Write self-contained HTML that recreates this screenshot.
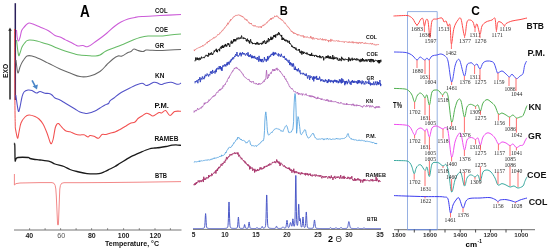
<!DOCTYPE html><html><head><meta charset="utf-8"><style>html,body{margin:0;padding:0;background:#fff;}svg{display:block;}</style></head><body>
<svg width="550" height="249" viewBox="0 0 550 249">
<rect width="550" height="249" fill="#fff"/>
<line x1="14" y1="230" x2="181.5" y2="230" stroke="#777" stroke-width="1"/>
<line x1="29.6" y1="228.2" x2="29.6" y2="230" stroke="#666" stroke-width="0.8"/>
<line x1="45.1" y1="228.2" x2="45.1" y2="230" stroke="#666" stroke-width="0.8"/>
<line x1="60.6" y1="228.2" x2="60.6" y2="230" stroke="#666" stroke-width="0.8"/>
<line x1="76.1" y1="228.2" x2="76.1" y2="230" stroke="#666" stroke-width="0.8"/>
<line x1="91.6" y1="228.2" x2="91.6" y2="230" stroke="#666" stroke-width="0.8"/>
<line x1="107.6" y1="228.2" x2="107.6" y2="230" stroke="#666" stroke-width="0.8"/>
<line x1="123.6" y1="228.2" x2="123.6" y2="230" stroke="#666" stroke-width="0.8"/>
<line x1="139.3" y1="228.2" x2="139.3" y2="230" stroke="#666" stroke-width="0.8"/>
<line x1="155" y1="228.2" x2="155" y2="230" stroke="#666" stroke-width="0.8"/>
<line x1="170.4" y1="228.2" x2="170.4" y2="230" stroke="#666" stroke-width="0.8"/>
<text x="29.3" y="238.2" font-size="7" font-weight="bold" font-family='"Liberation Sans", sans-serif' fill="#222" text-anchor="middle" >40</text>
<text x="91.8" y="238.2" font-size="7" font-weight="bold" font-family='"Liberation Sans", sans-serif' fill="#222" text-anchor="middle" >80</text>
<text x="123.6" y="238.2" font-size="7" font-weight="bold" font-family='"Liberation Sans", sans-serif' fill="#222" text-anchor="middle" >100</text>
<text x="155.4" y="238.2" font-size="7" font-weight="bold" font-family='"Liberation Sans", sans-serif' fill="#222" text-anchor="middle" >120</text>
<text x="61.2" y="238.2" font-size="7.2" font-weight="normal" font-family='"Liberation Sans", sans-serif' fill="#555" text-anchor="middle" >60</text>
<text x="105" y="246.2" font-size="7" font-weight="bold" font-family='"Liberation Sans", sans-serif' fill="#111" text-anchor="start" textLength="54" lengthAdjust="spacingAndGlyphs" >Temperature, °C</text>
<text x="80" y="16.9" font-size="15.6" font-weight="bold" font-family='"Liberation Sans", sans-serif' fill="#000" text-anchor="start" textLength="9.8" lengthAdjust="spacingAndGlyphs" >A</text>
<text transform="translate(7.8,77.9) rotate(-90)" font-size="7.6" font-weight="bold" font-family="Liberation Sans, sans-serif" fill="#111" textLength="14" lengthAdjust="spacingAndGlyphs">EXO</text>
<line x1="10" y1="30" x2="10" y2="99.5" stroke="#333" stroke-width="1.6"/>
<path d="M10 27.4 L8.2 30.8 L11.8 30.8 Z" fill="#222"/>
<text x="155" y="13" font-size="7" font-weight="bold" font-family='"Liberation Sans", sans-serif' fill="#111" text-anchor="start" textLength="12.6" lengthAdjust="spacingAndGlyphs" >COL</text>
<text x="155" y="32" font-size="7" font-weight="bold" font-family='"Liberation Sans", sans-serif' fill="#111" text-anchor="start" textLength="13" lengthAdjust="spacingAndGlyphs" >COE</text>
<text x="155" y="48" font-size="7" font-weight="bold" font-family='"Liberation Sans", sans-serif' fill="#111" text-anchor="start" textLength="9" lengthAdjust="spacingAndGlyphs" >GR</text>
<text x="155" y="78" font-size="7" font-weight="bold" font-family='"Liberation Sans", sans-serif' fill="#111" text-anchor="start" textLength="9.4" lengthAdjust="spacingAndGlyphs" >KN</text>
<text x="154.4" y="107.6" font-size="7" font-weight="bold" font-family='"Liberation Sans", sans-serif' fill="#111" text-anchor="start" textLength="14.6" lengthAdjust="spacingAndGlyphs" >P.M.</text>
<text x="154.4" y="140.6" font-size="7" font-weight="bold" font-family='"Liberation Sans", sans-serif' fill="#111" text-anchor="start" textLength="24" lengthAdjust="spacingAndGlyphs" >RAMEB</text>
<text x="155" y="177.6" font-size="7" font-weight="bold" font-family='"Liberation Sans", sans-serif' fill="#111" text-anchor="start" textLength="12" lengthAdjust="spacingAndGlyphs" >BTB</text>
<path d="M15.3 3.2 L15.3 100" fill="none" stroke="#2a1f5a" stroke-width="1.5" stroke-linejoin="round" />
<path d="M14.6 29 C14.65 40.83 14.78 83.5 14.9 100 C15.02 116.5 15.23 123.33 15.3 128" fill="none" stroke="#f05050" stroke-width="1.0" stroke-linejoin="round" />
<path d="M16.5 30 C16.63 31.33 16.97 36.17 17.3 38 C17.63 39.83 18.05 41.08 18.5 41 C18.95 40.92 19.5 39.17 20 37.5 C20.5 35.83 21 32.5 21.5 31 C22 29.5 22.25 29.5 23 28.5 C23.75 27.5 25 25.92 26 25 C27 24.08 27.83 23.17 29 23 C30.17 22.83 31.17 23.33 33 24 C34.83 24.67 37.5 25.92 40 27 C42.5 28.08 45.5 29.08 48 30.5 C50.5 31.92 53 34.42 55 35.5 C57 36.58 58.33 36.32 60 37 C61.67 37.68 63.33 38.77 65 39.6 C66.67 40.43 68.33 41.17 70 42 C71.67 42.83 73.67 43.93 75 44.6 C76.33 45.27 76.67 45.83 78 46 C79.33 46.17 81.33 45.5 83 45.6 C84.67 45.7 86 47.2 88 46.6 C90 46 92.67 43.6 95 42 C97.33 40.4 100 38.5 102 37 C104 35.5 104.83 34.83 107 33 C109.17 31.17 112.67 27.83 115 26 C117.33 24.17 118.83 23.17 121 22 C123.17 20.83 125.67 19.77 128 19 C130.33 18.23 132.67 17.8 135 17.4 C137.33 17 137.83 16.9 142 16.6 C146.17 16.3 153.5 15.97 160 15.6 C166.5 15.23 177.5 14.6 181 14.4" fill="none" stroke="#cc5cd8" stroke-width="1.05" stroke-linejoin="round" />
<path d="M16.5 40 C16.83 42.48 17.92 52.73 18.5 54.9 C19.08 57.07 19.42 54.32 20 53 C20.58 51.68 21.17 48.73 22 47 C22.83 45.27 24.17 43.67 25 42.6 C25.83 41.53 26.17 41.03 27 40.6 C27.83 40.17 28.33 39.93 30 40 C31.67 40.07 34.5 40.42 37 41 C39.5 41.58 42.83 42.83 45 43.5 C47.17 44.17 48 44.25 50 45 C52 45.75 54.5 47 57 48 C59.5 49 62 50 65 51 C68 52 72.5 53.33 75 54 C77.5 54.67 77.5 54.7 80 55 C82.5 55.3 87.5 55.63 90 55.8 C92.5 55.97 93.33 56.13 95 56 C96.67 55.87 98.17 55.83 100 55 C101.83 54.17 103.5 52.25 106 51 C108.5 49.75 111.83 48.75 115 47.5 C118.17 46.25 122 44.75 125 43.5 C128 42.25 130.5 41 133 40 C135.5 39 137.5 38.17 140 37.5 C142.5 36.83 144.67 36.25 148 36 C151.33 35.75 156.33 36.17 160 36 C163.67 35.83 166.5 35.33 170 35 C173.5 34.67 179.17 34.17 181 34" fill="none" stroke="#66bb66" stroke-width="1.05" stroke-linejoin="round" />
<path d="M16 60 C16.3 62.13 17.13 71.63 17.8 72.8 C18.47 73.97 19.3 68.7 20 67 C20.7 65.3 21.33 63.85 22 62.6 C22.67 61.35 23.17 60.6 24 59.5 C24.83 58.4 25.67 56.58 27 56 C28.33 55.42 29.83 55.5 32 56 C34.17 56.5 37.5 57.9 40 59 C42.5 60.1 45.33 61.77 47 62.6 C48.67 63.43 47.83 62.93 50 64 C52.17 65.07 56.67 67.5 60 69 C63.33 70.5 66.67 71.73 70 73 C73.33 74.27 76.67 76.1 80 76.6 C83.33 77.1 86.67 76.85 90 76 C93.33 75.15 97.17 73.42 100 71.5 C102.83 69.58 104.83 66.58 107 64.5 C109.17 62.42 111.17 60.42 113 59 C114.83 57.58 116.5 56.5 118 56 C119.5 55.5 120.33 56.58 122 56 C123.67 55.42 126.5 53.25 128 52.5 C129.5 51.75 130 52.08 131 51.5 C132 50.92 132.83 49.17 134 49 C135.17 48.83 136.5 50.08 138 50.5 C139.5 50.92 141.67 51.58 143 51.5 C144.33 51.42 144.83 50.22 146 50 C147.17 49.78 147.67 50.12 150 50.2 C152.33 50.28 156.67 50.53 160 50.5 C163.33 50.47 166.5 50.15 170 50 C173.5 49.85 179.17 49.67 181 49.6" fill="none" stroke="#686868" stroke-width="1.05" stroke-linejoin="round" />
<path d="M15.8 95 C16.22 97.67 17.6 109 18.3 111 C19 113 19.38 109.33 20 107 C20.62 104.67 21.33 99.5 22 97 C22.67 94.5 23 93.17 24 92 C25 90.83 26.67 90.25 28 90 C29.33 89.75 30.57 90 32 90.5 C33.43 91 35.27 92.83 36.6 93 C37.93 93.17 38.6 91.47 40 91.5 C41.4 91.53 43.5 92.87 45 93.2 C46.5 93.53 47.83 93.2 49 93.5 C50.17 93.8 51 94.25 52 95 C53 95.75 53.67 97.17 55 98 C56.33 98.83 58.33 99.17 60 100 C61.67 100.83 63.33 102 65 103 C66.67 104 68.33 105 70 106 C71.67 107 73.33 108 75 109 C76.67 110 78.5 111.33 80 112 C81.5 112.67 82.67 112.78 84 113 C85.33 113.22 86.17 113.63 88 113.3 C89.83 112.97 93 111.88 95 111 C97 110.12 98.33 109 100 108 C101.67 107 103.58 105.75 105 105 C106.42 104.25 107.67 104.2 108.5 103.5 C109.33 102.8 109.08 101.72 110 100.8 C110.92 99.88 112.5 99.13 114 98 C115.5 96.87 117.17 95.25 119 94 C120.83 92.75 123.17 91.5 125 90.5 C126.83 89.5 128.33 88.83 130 88 C131.67 87.17 133 86.3 135 85.5 C137 84.7 140.17 83.2 142 83.2 C143.83 83.2 144.67 85.33 146 85.5 C147.33 85.67 148.67 84.75 150 84.2 C151.33 83.65 152.83 82.43 154 82.2 C155.17 81.97 155.83 82.42 157 82.8 C158.17 83.18 159.67 84.43 161 84.5 C162.33 84.57 163.33 83.57 165 83.2 C166.67 82.83 168.83 82.12 171 82.3 C173.17 82.48 176.33 84.18 178 84.3 C179.67 84.42 180.5 83.22 181 83" fill="none" stroke="#5252c8" stroke-width="1.05" stroke-linejoin="round" />
<path d="M15.3 128 C15.67 129.7 16.88 137.53 17.5 138.2 C18.12 138.87 18.42 134.53 19 132 C19.58 129.47 20 125.5 21 123 C22 120.5 23.67 118.33 25 117 C26.33 115.67 27.33 115.08 29 115 C30.67 114.92 33.33 115.83 35 116.5 C36.67 117.17 37.67 117.75 39 119 C40.33 120.25 41.67 121.67 43 124 C44.33 126.33 45.83 130 47 133 C48.17 136 49.25 140.23 50 142 C50.75 143.77 50.97 144.1 51.5 143.6 C52.03 143.1 52.58 141.6 53.2 139 C53.82 136.4 54.57 130.5 55.2 128 C55.83 125.5 56.45 124.75 57 124 C57.55 123.25 58 123.33 58.5 123.5 C59 123.67 59.25 124.17 60 125 C60.75 125.83 62 127.5 63 128.5 C64 129.5 64.83 130.45 66 131 C67.17 131.55 68.5 131.3 70 131.8 C71.5 132.3 73.33 133.47 75 134 C76.67 134.53 78.5 134.87 80 135 C81.5 135.13 82.67 134.47 84 134.8 C85.33 135.13 87 136.88 88 137 C89 137.12 89 135.62 90 135.5 C91 135.38 92.57 135.83 94 136.3 C95.43 136.77 97.27 138.6 98.6 138.3 C99.93 138 100.77 135.13 102 134.5 C103.23 133.87 104.67 134.72 106 134.5 C107.33 134.28 108.5 133.62 110 133.2 C111.5 132.78 113.33 132.62 115 132 C116.67 131.38 118.33 130.42 120 129.5 C121.67 128.58 123.33 127.5 125 126.5 C126.67 125.5 128.33 124.25 130 123.5 C131.67 122.75 133.67 122.83 135 122 C136.33 121.17 136.83 119.5 138 118.5 C139.17 117.5 140.58 116.88 142 116 C143.42 115.12 145.17 113.45 146.5 113.2 C147.83 112.95 148.92 114.03 150 114.5 C151.08 114.97 151.5 116.33 153 116 C154.5 115.67 157.57 113 159 112.5 C160.43 112 160.5 113.33 161.6 113 C162.7 112.67 164.2 110.08 165.6 110.5 C167 110.92 168.5 115.33 170 115.5 C171.5 115.67 172.77 112.22 174.6 111.5 C176.43 110.78 179.93 111.25 181 111.2" fill="none" stroke="#f25050" stroke-width="1.05" stroke-linejoin="round" />
<path d="M14 143.6 C14.13 143.83 14.62 142.22 14.8 145 C14.98 147.78 14.9 157.97 15.1 160.3 C15.3 162.63 15.52 159.47 16 159 C16.48 158.53 16 157.75 18 157.5 C20 157.25 26 157.33 28 157.5 C30 157.67 28.83 158.17 30 158.5 C31.17 158.83 33.33 159.25 35 159.5 C36.67 159.75 37.5 159.65 40 160 C42.5 160.35 47.5 160.93 50 161.6 C52.5 162.27 52.67 163.18 55 164 C57.33 164.82 61.5 165.58 64 166.5 C66.5 167.42 67.83 168.67 70 169.5 C72.17 170.33 74.17 170.82 77 171.5 C79.83 172.18 83.33 173.25 87 173.6 C90.67 173.95 96 173.95 99 173.6 C102 173.25 103.17 172.27 105 171.5 C106.83 170.73 108.33 169.83 110 169 C111.67 168.17 113.33 167.45 115 166.5 C116.67 165.55 118.17 164.45 120 163.3 C121.83 162.15 124.17 160.72 126 159.6 C127.83 158.48 128.67 157.77 131 156.6 C133.33 155.43 137 153.87 140 152.6 C143 151.33 146.5 149.77 149 149 C151.5 148.23 153.17 148.25 155 148 C156.83 147.75 158.17 147.75 160 147.5 C161.83 147.25 164 146.88 166 146.5 C168 146.12 170.33 145.48 172 145.2 C173.67 144.92 174.5 144.77 176 144.8 C177.5 144.83 180.17 145.3 181 145.4" fill="none" stroke="#1a1a1a" stroke-width="1.3" stroke-linejoin="round" />
<path d="M14.4 174 L14.4 185 L16 183.6 L20 183 L40 182.6 L52 182.6 L54 183.3 L55.2 185.5 L55.8 189 L56.3 196 L57.6 224.8 L58.4 224.8 L59.5 196 L59.8 189 L60.4 185.5 L61.6 183.3 L64 182.7 L80 182.7 L110 182.5 L140 182.2 L181 181.6" fill="none" stroke="#f07a7a" stroke-width="0.9" stroke-linejoin="round" />
<line x1="32.1" y1="80.4" x2="35" y2="85.8" stroke="#4a86c8" stroke-width="1.6"/>
<path d="M32.5 86.3 L37.9 84.6 L37 89.4 Z" fill="#4a86c8"/>
<line x1="193" y1="229.4" x2="381" y2="229.4" stroke="#777" stroke-width="1"/>
<text x="193.6" y="237.4" font-size="6.6" font-weight="bold" font-family='"Liberation Sans", sans-serif' fill="#222" text-anchor="middle" >5</text>
<text x="225" y="237.4" font-size="6.6" font-weight="bold" font-family='"Liberation Sans", sans-serif' fill="#222" text-anchor="middle" >10</text>
<text x="256" y="237.4" font-size="6.6" font-weight="bold" font-family='"Liberation Sans", sans-serif' fill="#222" text-anchor="middle" >15</text>
<text x="287" y="237.4" font-size="6.6" font-weight="bold" font-family='"Liberation Sans", sans-serif' fill="#222" text-anchor="middle" >20</text>
<text x="318" y="237.4" font-size="6.6" font-weight="bold" font-family='"Liberation Sans", sans-serif' fill="#222" text-anchor="middle" >25</text>
<text x="349" y="237.4" font-size="6.6" font-weight="bold" font-family='"Liberation Sans", sans-serif' fill="#222" text-anchor="middle" >30</text>
<text x="380" y="237.4" font-size="6.6" font-weight="bold" font-family='"Liberation Sans", sans-serif' fill="#222" text-anchor="middle" >35</text>
<text x="327.9" y="241.8" font-size="9" font-weight="bold" font-family='"Liberation Sans", sans-serif' fill="#000" text-anchor="start" >2</text>
<text x="335.4" y="241.9" font-size="8.2" font-weight="normal" font-family='"Liberation Sans", sans-serif' fill="#222" text-anchor="start" >Θ</text>
<text x="279.8" y="14.8" font-size="13.6" font-weight="bold" font-family='"Liberation Sans", sans-serif' fill="#000" text-anchor="start" textLength="8.1" lengthAdjust="spacingAndGlyphs" >B</text>
<text x="366" y="39.4" font-size="5.7" font-weight="bold" font-family='"Liberation Sans", sans-serif' fill="#111" text-anchor="start" textLength="11" lengthAdjust="spacingAndGlyphs" >COL</text>
<text x="366.6" y="55.8" font-size="5.7" font-weight="bold" font-family='"Liberation Sans", sans-serif' fill="#111" text-anchor="start" textLength="11.4" lengthAdjust="spacingAndGlyphs" >COE</text>
<text x="366.6" y="79.8" font-size="5.7" font-weight="bold" font-family='"Liberation Sans", sans-serif' fill="#111" text-anchor="start" textLength="7.4" lengthAdjust="spacingAndGlyphs" >GR</text>
<text x="366" y="102.8" font-size="5.7" font-weight="bold" font-family='"Liberation Sans", sans-serif' fill="#111" text-anchor="start" textLength="7" lengthAdjust="spacingAndGlyphs" >KN</text>
<text x="366" y="137.8" font-size="5.7" font-weight="bold" font-family='"Liberation Sans", sans-serif' fill="#111" text-anchor="start" textLength="10" lengthAdjust="spacingAndGlyphs" >P.M.</text>
<text x="365.5" y="177.1" font-size="5.7" font-weight="bold" font-family='"Liberation Sans", sans-serif' fill="#111" text-anchor="start" textLength="20.5" lengthAdjust="spacingAndGlyphs" >RAMEB</text>
<text x="367" y="221.4" font-size="5.7" font-weight="bold" font-family='"Liberation Sans", sans-serif' fill="#111" text-anchor="start" textLength="10.4" lengthAdjust="spacingAndGlyphs" >BTB</text>
<path d="M194 50.1 L194.21 49.69 L194.46 51.06 L194.76 50.01 L195.09 49.55 L195.46 49.47 L195.85 49.44 L196.25 48.75 L196.66 48.74 L197.08 48.67 L197.5 48.08 L197.9 48.12 L198.29 47.92 L198.66 47.86 L199 47.29 L199.4 47.38 L199.77 47.48 L200.14 46.78 L200.49 47.05 L200.83 47.12 L201.17 46.54 L201.51 46.94 L201.86 46.17 L202.23 45.98 L202.6 45.34 L203 46.38 L203.33 45.84 L203.66 45.4 L204.01 44.72 L204.36 44.98 L204.71 44.57 L205.07 44.22 L205.44 44.48 L205.8 43.87 L206.17 43.15 L206.54 42.67 L206.91 42.25 L207.28 43.3 L207.64 41.98 L208 42.01 L208.36 41.03 L208.71 42.03 L209.07 40.98 L209.43 41.18 L209.79 40.15 L210.14 40.3 L210.5 40.03 L210.86 40.19 L211.21 39.71 L211.57 39.44 L211.93 39.2 L212.29 39.22 L212.64 38.66 L213 38.69 L213.36 37.88 L213.71 37.47 L214.07 38.35 L214.43 37.36 L214.79 36.95 L215.14 37.36 L215.5 37.27 L215.86 36.56 L216.21 36.77 L216.57 36.42 L216.93 35.73 L217.29 35.48 L217.64 34.63 L218 34.25 L218.36 35.04 L218.72 34.67 L219.09 33.94 L219.46 33.89 L219.83 32.72 L220.2 33.04 L220.56 32.96 L220.93 32.11 L221.29 31.86 L221.64 31.14 L221.99 31.37 L222.34 30.33 L222.67 30.45 L223 30.49 L223.4 29.01 L223.8 28.62 L224.19 28.64 L224.57 28.54 L224.94 27.02 L225.31 27.23 L225.66 26.49 L226.01 26.34 L226.35 26.08 L226.68 24.82 L227 25.16 L227.42 24.54 L227.82 22.76 L228.2 24.34 L228.56 23.41 L228.92 22.72 L229.27 21.94 L229.63 21.01 L230 20.64 L230.38 21.15 L230.75 19.27 L231.12 20.15 L231.5 19.28 L231.88 18.84 L232.25 18.71 L232.62 18.46 L233 17.2 L233.38 16.89 L233.77 17.25 L234.17 16.4 L234.56 16.39 L234.95 16.37 L235.32 15.59 L235.67 15.51 L236 15.82 L236.46 15.09 L236.87 15.49 L237.25 14.82 L237.62 15.33 L238 14.9 L238.35 15.03 L238.66 14.78 L238.98 15.18 L239.41 15.32 L240 14.81 L240.26 15.14 L240.56 15.85 L240.87 15.48 L241.21 16.5 L241.56 16.1 L241.93 15.92 L242.31 16.7 L242.7 16.03 L243.09 17.35 L243.48 17.75 L243.87 17.6 L244.26 18.09 L244.64 18.05 L245 19.57 L245.35 18.91 L245.71 19.43 L246.05 19.91 L246.4 20.48 L246.74 19.33 L247.09 20.01 L247.44 20.99 L247.79 21.29 L248.14 21.77 L248.5 21.86 L248.86 23.05 L249.23 22.75 L249.61 22.75 L250 24.07 L250.33 23.69 L250.67 23.15 L251.02 23.91 L251.39 23.18 L251.75 24.61 L252.12 24.96 L252.5 25.39 L252.87 25.01 L253.25 25.18 L253.62 26.17 L253.99 25.94 L254.35 25.75 L254.7 26.3 L255.05 25.21 L255.38 25.93 L255.7 26.08 L256 26.45 L256.44 26.93 L256.84 26.9 L257.21 26.97 L257.56 26.72 L257.9 27.08 L258.23 26.56 L258.56 27.21 L258.89 27.63 L259.24 26.88 L259.61 26.68 L260 26.9 L260.33 27.16 L260.66 27.24 L261.01 26.17 L261.36 27.83 L261.71 26.98 L262.07 25.86 L262.44 25.5 L262.8 25.31 L263.17 25.35 L263.54 26.07 L263.91 24.52 L264.28 24.85 L264.64 24.67 L265 23.89 L265.35 24.32 L265.71 24.1 L266.05 23.6 L266.4 22.65 L266.74 22.83 L267.09 23.09 L267.44 21.83 L267.79 21.85 L268.14 20.91 L268.5 20.81 L268.86 20.85 L269.23 20.84 L269.61 19.71 L270 19.86 L270.33 19.32 L270.67 18.38 L271.02 19.86 L271.39 17.98 L271.75 19.07 L272.12 18.47 L272.5 18.25 L272.87 17.5 L273.25 18.31 L273.62 17.8 L273.99 17.45 L274.35 17.04 L274.7 15.85 L275.05 16.18 L275.38 16.74 L275.7 16.46 L276 16.37 L276.44 16.45 L276.84 15.49 L277.21 16.76 L277.56 16.69 L277.9 16.81 L278.23 16.79 L278.56 17.86 L278.89 17.6 L279.24 18.48 L279.61 18.26 L280 18.79 L280.33 18.28 L280.66 19.2 L281.01 19.2 L281.36 20.02 L281.71 19.43 L282.07 20.82 L282.44 20.48 L282.8 20.74 L283.17 20.73 L283.54 21.32 L283.91 22.17 L284.28 23.04 L284.64 23.41 L285 22.68 L285.36 23.21 L285.71 24.02 L286.07 24.36 L286.43 25.06 L286.79 25.16 L287.14 25.92 L287.5 26.64 L287.86 27 L288.21 26.76 L288.57 27.81 L288.93 28.04 L289.29 27.96 L289.64 28.85 L290 29.44 L290.36 30.17 L290.71 29.97 L291.07 30.72 L291.43 32 L291.79 31.59 L292.14 31.16 L292.5 32.37 L292.86 32.07 L293.21 32.57 L293.57 32.08 L293.93 33.98 L294.29 33.05 L294.64 33.01 L295 32.98 L295.36 33.71 L295.71 33.2 L296.07 33.94 L296.43 34.55 L296.79 34.15 L297.14 34.25 L297.5 35.35 L297.86 34.19 L298.21 35.23 L298.57 34.88 L298.93 35.16 L299.29 34.83 L299.64 35.31 L300 35.54 L300.36 35.84 L300.71 36.01 L301.07 35.28 L301.43 35.98 L301.79 36.39 L302.14 35.92 L302.5 35.96 L302.86 35.91 L303.21 35.31 L303.57 37.47 L303.93 37.1 L304.29 36.34 L304.64 37.42 L305 36.71 L305.36 36.84 L305.71 37.19 L306.07 37.09 L306.43 37.32 L306.79 37.26 L307.14 36.56 L307.5 37.26 L307.86 37.25 L308.21 37.36 L308.57 37.81 L308.93 37.63 L309.29 37.64 L309.64 37.96 L310 38.03 L310.36 38.01 L310.71 35.97 L311.07 36.97 L311.43 38.56 L311.79 37.99 L312.14 37.27 L312.5 38.18 L312.86 39.49 L313.21 37.85 L313.57 37.38 L313.93 38.3 L314.29 39.02 L314.64 39.07 L315 38.72 L315.36 38.33 L315.71 38.09 L316.07 38.46 L316.43 38.07 L316.79 38.78 L317.14 38.42 L317.5 39.02 L317.86 39.71 L318.21 39.01 L318.57 39.09 L318.93 38.99 L319.29 39.38 L319.64 38.99 L320 39.03 L320.35 38.35 L320.67 38.64 L320.98 39.52 L321.28 39.51 L321.58 40.11 L321.88 39.62 L322.19 39.05 L322.51 38.57 L322.85 40.24 L323.21 39.28 L323.6 40.14 L324.02 40.1 L324.49 39.75 L325 38.95 L325.27 40.6 L325.56 40.36 L325.86 40.42 L326.17 39.45 L326.48 39.99 L326.81 40.1 L327.15 40.53 L327.49 40.22 L327.84 40.71 L328.2 40.14 L328.57 42.1 L328.94 40.09 L329.31 40.4 L329.69 40.63 L330.07 40.47 L330.45 41.54 L330.84 38.93 L331.22 40.02 L331.61 41.18 L332 40.81 L332.38 39.72 L332.77 40.5 L333.15 40.55 L333.53 40.86 L333.9 41.1 L334.27 40.85 L334.64 40.93 L335 41.04 L335.36 41.25 L335.71 40.83 L336.07 40.95 L336.43 40.49 L336.79 40.89 L337.14 40.96 L337.5 40.74 L337.86 41.49 L338.21 41.1 L338.57 40.54 L338.93 41.66 L339.29 41.51 L339.64 41.3 L340 41.54 L340.36 41.03 L340.71 41.46 L341.07 41.52 L341.43 41.64 L341.79 41.43 L342.14 41.33 L342.5 41.58 L342.86 41.79 L343.21 41.56 L343.57 41.94 L343.93 41.66 L344.29 42.68 L344.64 41.7 L345 41.48 L345.36 41.05 L345.71 41.46 L346.07 41.5 L346.43 41.8 L346.79 41.89 L347.14 41.82 L347.5 42.17 L347.86 42.31 L348.21 42.82 L348.57 41.89 L348.93 41.78 L349.29 42.52 L349.64 41.57 L350 42.16 L350.36 42.58 L350.71 42.23 L351.07 42.26 L351.43 41.73 L351.79 42.46 L352.14 43.1 L352.5 41.95 L352.86 41.42 L353.21 42.55 L353.57 43.23 L353.93 41.95 L354.29 42.6 L354.64 42.5 L355 42.66 L355.36 42.66 L355.72 42.82 L356.09 41.91 L356.45 42.74 L356.83 43.37 L357.2 42.4 L357.57 43.17 L357.94 42.67 L358.32 43.75 L358.69 42.53 L359.07 42.57 L359.44 42.33 L359.82 43.14 L360.19 42.34 L360.56 43.36 L360.92 43.65 L361.29 43.16 L361.65 42.34 L362.01 42.89 L362.36 42.22 L362.71 42.84 L363.06 42.77 L363.4 43.34 L363.73 43.35 L364.06 43.26 L364.38 43.01 L364.69 43.63 L365 43.83 L365.42 42.57 L365.82 43.27 L366.21 43.03 L366.59 43.57 L366.96 43.58 L367.32 43.46 L367.67 43.47 L368.02 43.33 L368.35 43.76 L368.69 43.74 L369.02 44.16 L369.34 43.94 L369.67 43.59 L369.99 43.22 L370.32 43.17 L370.65 43.82 L370.98 43.93 L371.31 43.57 L371.65 44.42 L372 43.97 L372.36 43.11 L372.73 44.11 L373.12 43.77 L373.51 44.37 L373.91 44.78 L374.32 44.41 L374.73 44.15 L375.14 45.23 L375.54 44.74 L375.94 45.32 L376.33 44.64 L376.7 44.64 L377.07 44.28 L377.41 44.78 L377.74 44.93 L378.05 44.6 L378.33 44.17 L378.58 44.54 L378.81 44.83 L379 44.94" fill="none" stroke="#e87474" stroke-width="0.8" stroke-linejoin="round" />
<path d="M195 61.36 L195.16 60.07 L195.34 59.79 L195.54 59.76 L195.76 57.5 L196 60.34 L196.25 59.07 L196.52 58.58 L196.8 58.44 L197.09 57.64 L197.39 59.69 L197.7 57.85 L198.03 59.76 L198.36 58.25 L198.69 58.66 L199.04 60.27 L199.39 59.33 L199.74 57.72 L200.09 58.71 L200.45 59.62 L200.81 58.06 L201.16 58.35 L201.52 56.69 L201.87 58.15 L202.22 58.21 L202.56 57.87 L202.9 57.35 L203.23 57.15 L203.55 57.61 L203.86 57.19 L204.17 58.15 L204.46 57.48 L204.74 56.98 L205 57.16 L205.36 55.57 L205.72 55.29 L206.07 54.85 L206.41 55.71 L206.74 56.03 L207.07 54.97 L207.38 55.31 L207.7 56.49 L208 55.77 L208.31 56.43 L208.6 52.91 L208.9 53.69 L209.19 54.63 L209.47 55.21 L209.76 54.13 L210.04 54.32 L210.32 52.93 L210.6 54.52 L210.88 54.19 L211.16 54.72 L211.44 52.34 L211.72 52.6 L212 53.58 L212.32 54.1 L212.65 55.01 L212.96 53.34 L213.28 53.18 L213.59 53.31 L213.91 52.18 L214.21 50.59 L214.52 51.93 L214.82 51.11 L215.12 50.53 L215.42 50.13 L215.72 49.73 L216.01 50.76 L216.31 48.76 L216.59 51.88 L216.88 49.98 L217.16 50.27 L217.44 52.27 L217.72 50.32 L218 49.58 L218.34 49.73 L218.67 49.67 L219 48.99 L219.32 49.34 L219.64 51.21 L219.95 47.86 L220.26 47.68 L220.56 47.45 L220.87 46.79 L221.17 48.81 L221.47 46.36 L221.77 46.91 L222.08 47.12 L222.38 45.38 L222.69 48.02 L223 45.85 L223.31 46.33 L223.61 47.94 L223.91 46.87 L224.2 44.96 L224.5 45.37 L224.79 46.65 L225.08 45.05 L225.38 43.95 L225.67 45.94 L225.98 44.7 L226.29 46.64 L226.61 45.61 L226.94 46.24 L227.28 44.57 L227.63 43.34 L228 44.21 L228.27 45 L228.54 43.27 L228.83 44.48 L229.12 45.34 L229.43 45.72 L229.73 46.85 L230.05 43.71 L230.37 43.31 L230.69 42.39 L231.01 41.64 L231.34 40.64 L231.66 43.72 L231.99 43.16 L232.31 41.67 L232.63 43.27 L232.95 42.24 L233.27 41.01 L233.57 39.42 L233.88 41.77 L234.17 39.3 L234.46 40.69 L234.73 39.08 L235 40.44 L235.37 39.42 L235.72 41.32 L236.06 39.54 L236.39 39.78 L236.71 38.47 L237.02 37.82 L237.33 39.1 L237.62 39.28 L237.92 39.33 L238.21 37.76 L238.5 38.08 L238.8 37.59 L239.09 39.24 L239.39 38.83 L239.69 38.4 L240 38.37 L240.31 37.49 L240.62 38.2 L240.94 38.89 L241.25 36.99 L241.56 35.6 L241.88 36.77 L242.19 37.72 L242.5 38.28 L242.81 38.65 L243.12 38.72 L243.44 38.78 L243.75 37.36 L244.06 38.87 L244.38 38.56 L244.69 38.21 L245 38.95 L245.31 38.56 L245.62 38.46 L245.94 39.42 L246.25 40.99 L246.56 39.73 L246.88 41.6 L247.19 39.94 L247.5 38.68 L247.81 40.62 L248.12 40.22 L248.44 41.07 L248.75 40.1 L249.06 42.55 L249.38 41.14 L249.69 43.61 L250 42.05 L250.31 40.87 L250.62 39.26 L250.94 41.84 L251.25 41.65 L251.56 42.88 L251.88 42.69 L252.19 42.2 L252.5 44.12 L252.81 43.01 L253.12 43.63 L253.44 43.08 L253.75 43.59 L254.06 43.94 L254.38 43.11 L254.69 43.07 L255 43.65 L255.31 44.31 L255.62 43.11 L255.94 44.49 L256.25 43.22 L256.56 44.13 L256.88 42.15 L257.19 42.19 L257.5 43.64 L257.81 42.55 L258.12 44.88 L258.44 44.19 L258.75 43.33 L259.06 43.17 L259.38 44.57 L259.69 44.16 L260 43.48 L260.31 43.62 L260.62 43.93 L260.94 42.92 L261.25 43.17 L261.56 44.49 L261.88 43.98 L262.19 42.65 L262.5 43.95 L262.81 44.11 L263.12 41.31 L263.44 42.62 L263.75 41.32 L264.06 42.43 L264.38 40.3 L264.69 40.71 L265 41.06 L265.31 44.01 L265.62 43.02 L265.94 43.81 L266.25 42.44 L266.56 42.92 L266.88 40.62 L267.19 41.45 L267.5 40.87 L267.81 42.3 L268.12 39.33 L268.44 38.02 L268.75 40.25 L269.06 41.41 L269.38 39.81 L269.69 38.98 L270 39.99 L270.31 39.87 L270.63 38.13 L270.95 36.71 L271.27 40.04 L271.6 38.07 L271.92 39.26 L272.24 37.17 L272.56 39.32 L272.88 38.66 L273.2 37.81 L273.51 35.37 L273.82 36.87 L274.12 36.16 L274.42 36.91 L274.71 35.01 L275 37.07 L275.34 34.73 L275.68 37.58 L276.01 34.54 L276.34 34.94 L276.66 34.87 L276.97 34.66 L277.28 33.84 L277.58 35.32 L277.88 34.24 L278.17 33.02 L278.45 32.81 L278.73 32.14 L279 34.95 L279.34 32.96 L279.66 33.83 L279.97 34.58 L280.27 35.46 L280.56 35.08 L280.85 35.6 L281.13 35.74 L281.42 36.77 L281.7 34.96 L282 40.02 L282.29 37.64 L282.57 37.57 L282.84 39.97 L283.1 39.48 L283.38 39.04 L283.66 37.92 L283.95 39.9 L284.27 39.19 L284.62 40.84 L285 39.99 L285.26 40 L285.53 39.83 L285.81 41.37 L286.11 39.7 L286.41 40.45 L286.73 40.19 L287.05 41.62 L287.38 41.83 L287.7 40.37 L288.04 42.63 L288.37 41.94 L288.7 41.65 L289.03 42.22 L289.36 40.83 L289.68 43.91 L290 43.13 L290.31 43.95 L290.62 44.17 L290.94 44.32 L291.25 45.13 L291.56 45.1 L291.88 46.99 L292.19 45.74 L292.5 46.49 L292.81 46.3 L293.12 47.94 L293.44 47.7 L293.75 47.94 L294.06 47.11 L294.38 48.16 L294.69 47.25 L295 48.29 L295.31 49.08 L295.62 49.55 L295.94 47.68 L296.25 48.84 L296.56 50.13 L296.88 50.19 L297.19 49.89 L297.5 50.14 L297.81 49.99 L298.12 50.4 L298.44 49.44 L298.75 50.39 L299.06 50.07 L299.38 49.01 L299.69 52.26 L300 51.62 L300.31 52.78 L300.62 51.89 L300.94 53.31 L301.25 50.75 L301.56 51.73 L301.88 54.64 L302.19 52.53 L302.5 51.4 L302.81 53.02 L303.12 52.72 L303.44 53.85 L303.75 51.7 L304.06 53.3 L304.38 52.31 L304.69 52.69 L305 53.07 L305.31 53.13 L305.62 53.62 L305.94 52.86 L306.25 53.28 L306.56 54.23 L306.88 52.47 L307.19 52.89 L307.5 54.12 L307.81 53.75 L308.12 55.05 L308.44 54.46 L308.75 54.48 L309.06 54.35 L309.38 55.01 L309.69 54.27 L310 55.9 L310.3 54.37 L310.59 55.83 L310.87 54.76 L311.13 55.62 L311.39 55.52 L311.66 52.89 L311.92 56 L312.19 55.35 L312.47 55.02 L312.76 56.07 L313.07 54.78 L313.4 55.12 L313.75 55.77 L314.14 55.4 L314.55 56.65 L315 54.98 L315.23 55.73 L315.46 55.43 L315.68 55.32 L315.91 55.02 L316.15 55.23 L316.38 55.31 L316.61 56.61 L316.85 55.69 L317.1 56.91 L317.34 56.92 L317.59 55.99 L317.85 57.23 L318.11 56.6 L318.37 56.66 L318.64 56.2 L318.92 57.12 L319.21 57.2 L319.5 55.47 L319.8 57.09 L320.1 58.13 L320.42 55.96 L320.74 56.14 L321.07 57.1 L321.42 58.08 L321.77 57.91 L322.13 57.16 L322.51 56.12 L322.89 56.83 L323.29 56.81 L323.7 60.34 L324.12 58.26 L324.55 57.8 L325 58.02 L325.23 57.96 L325.46 58.04 L325.7 58.29 L325.94 56.23 L326.19 56.4 L326.44 57.55 L326.7 56.12 L326.96 58.03 L327.22 56.28 L327.48 57.82 L327.75 57.72 L328.03 55.37 L328.3 57.87 L328.58 58.27 L328.87 56 L329.15 56.91 L329.44 58.24 L329.73 57.02 L330.03 58.75 L330.32 58.43 L330.62 56.23 L330.93 58.38 L331.23 58.82 L331.54 57.75 L331.84 57.93 L332.16 59.15 L332.47 56.66 L332.78 55.07 L333.1 59.15 L333.41 57.88 L333.73 59.39 L334.05 56.65 L334.38 59 L334.7 58.07 L335.02 58.42 L335.35 58.74 L335.67 58.43 L336 57.05 L336.32 58.44 L336.65 58.84 L336.98 59.41 L337.31 59.53 L337.63 57.79 L337.96 59.31 L338.29 60.58 L338.62 60.15 L338.95 59.91 L339.27 60.63 L339.6 58.54 L339.93 58.4 L340.25 59.8 L340.58 59.28 L340.9 59.96 L341.23 61.13 L341.55 56.81 L341.87 57.26 L342.19 59.08 L342.51 58.14 L342.83 58.62 L343.14 60.13 L343.46 58.88 L343.77 59.81 L344.08 60.28 L344.39 59.51 L344.7 60 L345 60.26 L345.3 58.7 L345.61 59 L345.91 59.3 L346.22 59.4 L346.53 58.98 L346.83 59.77 L347.14 59.21 L347.45 59.45 L347.76 59.25 L348.07 59.86 L348.38 61.56 L348.69 57.28 L349 57.78 L349.31 59.29 L349.63 60.2 L349.94 58.57 L350.25 61.1 L350.56 59.33 L350.88 59.91 L351.19 60.11 L351.5 59.22 L351.81 58.45 L352.13 57.77 L352.44 60.43 L352.75 58.79 L353.07 58.86 L353.38 59.05 L353.69 59.89 L354 59.93 L354.32 58.49 L354.63 59.14 L354.94 59.07 L355.25 60.02 L355.56 58.85 L355.87 59.17 L356.18 60.47 L356.49 58.48 L356.8 58.76 L357.1 59.04 L357.41 58.69 L357.72 60.29 L358.02 59.48 L358.33 59.3 L358.63 59.71 L358.93 59.47 L359.23 61.2 L359.53 59.87 L359.83 59.81 L360.13 62.17 L360.43 59.8 L360.73 59.16 L361.02 59.38 L361.31 61.51 L361.61 60.42 L361.9 58.96 L362.19 61.31 L362.48 58.18 L362.76 60.33 L363.05 59.76 L363.33 60.42 L363.61 59.2 L363.89 61.51 L364.17 61.34 L364.45 60.23 L364.73 60.05 L365 61.33 L365.34 60.9 L365.68 59.41 L366.03 59.79 L366.38 61.34 L366.73 59.46 L367.08 61.35 L367.43 61.18 L367.79 61.05 L368.14 59.29 L368.5 60.09 L368.85 59.99 L369.21 59.06 L369.57 62 L369.92 61.6 L370.28 60.3 L370.63 58.98 L370.99 62.24 L371.34 58.93 L371.69 60.37 L372.04 59 L372.39 60.37 L372.73 61.41 L373.07 59.13 L373.41 62.2 L373.75 60.01 L374.08 61.41 L374.41 61.99 L374.74 61.16 L375.06 60.48 L375.38 60.3 L375.7 60.27 L376.01 60.33 L376.31 60.86 L376.61 60.55 L376.9 60.25 L377.19 60.83 L377.47 62.11 L377.75 62.12 L378.02 60.29 L378.28 61.34 L378.54 60.02 L378.79 63.26 L379.03 60.96 L379.27 60.01 L379.49 63.18 L379.71 60.21 L379.92 62.59 L380.13 60.95 L380.32 60.56 L380.5 60.55 L380.68 60.8 L380.84 59.78 L381 62.1" fill="none" stroke="#111" stroke-width="0.9" stroke-linejoin="round" />
<path d="M195 83.34 L195.16 81.34 L195.34 81.98 L195.53 81.92 L195.74 81.45 L195.97 82.14 L196.21 81.95 L196.46 81.02 L196.73 81.12 L197.01 80.14 L197.29 80.48 L197.59 81.61 L197.9 83.24 L198.22 79.79 L198.54 79.11 L198.87 80.16 L199.21 79.6 L199.55 79.59 L199.89 77.14 L200.24 82.15 L200.59 80.84 L200.94 78.23 L201.3 78.13 L201.65 79.18 L202 79.57 L202.35 76.47 L202.7 77.01 L203.05 78.49 L203.39 78.62 L203.72 78.14 L204.05 79.19 L204.38 76.25 L204.69 77.77 L205 75.75 L205.3 74.6 L205.61 75.6 L205.91 76.21 L206.21 75.73 L206.52 76.05 L206.82 74.44 L207.12 73.54 L207.42 74.81 L207.73 74.71 L208.03 75.54 L208.33 75.56 L208.64 76.48 L208.94 74.33 L209.24 74 L209.55 74.5 L209.85 75.25 L210.15 73.77 L210.45 71.6 L210.76 72.83 L211.06 71.79 L211.36 71.32 L211.67 72.95 L211.97 74.02 L212.27 72.37 L212.58 69.95 L212.88 71.57 L213.18 72.91 L213.48 72.45 L213.79 72.01 L214.09 71.63 L214.39 70.87 L214.7 71.31 L215 73.55 L215.31 72.38 L215.61 70.5 L215.93 69.52 L216.24 72.15 L216.56 68.53 L216.89 69.68 L217.21 68.58 L217.54 67.77 L217.86 68.75 L218.19 68.75 L218.52 68.22 L218.85 69.4 L219.17 66.1 L219.5 68.29 L219.83 68.7 L220.15 67.01 L220.47 66.08 L220.79 69.24 L221.11 67.33 L221.42 70.36 L221.73 67.49 L222.04 70.89 L222.34 67 L222.63 66.07 L222.92 65.25 L223.21 65.16 L223.49 65.83 L223.76 66.72 L224.02 66.63 L224.28 65.32 L224.53 64.41 L224.77 64.79 L225 65.83 L225.45 64.74 L225.86 66.51 L226.25 64.15 L226.6 65.1 L226.93 62.63 L227.24 63.04 L227.53 65.31 L227.81 62.18 L228.08 61.93 L228.34 63.5 L228.61 62.93 L228.87 61.83 L229.13 64.65 L229.41 63.24 L229.7 62.32 L230 61 L230.31 60.51 L230.62 62.32 L230.94 60.87 L231.25 59.1 L231.56 60.45 L231.88 59.47 L232.19 58.6 L232.5 57.78 L232.81 59.49 L233.12 57.33 L233.44 57.5 L233.75 58.47 L234.06 57.41 L234.38 56.81 L234.69 55.93 L235 56.88 L235.32 55.21 L235.64 54.13 L235.97 55.2 L236.3 55.89 L236.63 55.29 L236.96 52.03 L237.3 55.45 L237.62 56.26 L237.95 55.44 L238.27 56.38 L238.59 56.39 L238.89 55.61 L239.19 55.11 L239.47 55.12 L239.74 53.13 L240 52.76 L240.36 54.36 L240.66 52.77 L240.92 53.89 L241.15 56.34 L241.38 54.79 L241.61 53.58 L241.87 54.43 L242.18 53.64 L242.55 52.12 L243 54.3 L243.23 54.21 L243.47 53.65 L243.73 53.02 L244.01 54.41 L244.29 54.12 L244.59 53.38 L244.9 54.06 L245.22 55.35 L245.54 55.48 L245.87 54.45 L246.21 53.91 L246.54 53.13 L246.88 54.36 L247.22 55.33 L247.56 55.68 L247.89 52.24 L248.22 52.64 L248.54 56.63 L248.85 56.02 L249.16 56.09 L249.45 55.24 L249.73 56.77 L250 56.85 L250.37 54.2 L250.72 54.82 L251.06 57.14 L251.39 56.49 L251.71 58.26 L252.02 55.37 L252.33 58.06 L252.62 56.53 L252.92 57.75 L253.21 58.03 L253.5 56.36 L253.8 56.88 L254.09 58.16 L254.39 57.31 L254.69 55.93 L255 57.77 L255.31 58.92 L255.62 58.34 L255.94 57.4 L256.25 57.97 L256.56 59.21 L256.88 59.31 L257.19 59.98 L257.5 57.06 L257.81 58.06 L258.12 58.11 L258.44 60.72 L258.75 61.67 L259.06 55.85 L259.38 60.26 L259.69 59.63 L260 59.01 L260.31 61.41 L260.62 58.91 L260.94 60.93 L261.25 59.15 L261.56 62.1 L261.88 60.18 L262.19 60.19 L262.5 58.94 L262.81 60.9 L263.12 62.24 L263.44 61.89 L263.75 60.96 L264.06 60.21 L264.38 57.11 L264.69 59.18 L265 60.39 L265.31 59.8 L265.63 59.28 L265.95 59.56 L266.27 61.71 L266.6 59.26 L266.92 60.31 L267.24 59.36 L267.56 56.23 L267.88 60.41 L268.2 57.43 L268.51 58.92 L268.82 58.28 L269.12 55.87 L269.42 57.23 L269.71 56.96 L270 56.74 L270.34 55.5 L270.65 56.46 L270.95 54.27 L271.24 54.51 L271.52 54.99 L271.8 53.87 L272.08 55.11 L272.36 53.47 L272.65 54.2 L272.96 54.54 L273.28 51.91 L273.63 55.82 L274 54.27 L274.26 53.35 L274.52 52.83 L274.8 54.71 L275.09 52.46 L275.38 53.9 L275.68 52.69 L275.99 53.89 L276.3 53.65 L276.62 53.96 L276.94 54.52 L277.26 54.94 L277.58 55.46 L277.89 55.32 L278.21 53.45 L278.52 53.47 L278.83 56.45 L279.14 54.8 L279.43 54.31 L279.72 54.53 L280 55.38 L280.34 55.37 L280.67 56.84 L281 55.85 L281.32 53.8 L281.64 55.45 L281.95 56.22 L282.26 56.31 L282.56 56.71 L282.87 57.31 L283.17 57.09 L283.47 56.69 L283.77 57.86 L284.08 56.08 L284.38 56.07 L284.69 58.14 L285 58.31 L285.31 59.86 L285.62 58.94 L285.94 58.18 L286.25 58.59 L286.56 60.33 L286.88 60.7 L287.19 59.7 L287.5 60.17 L287.81 61.63 L288.12 61.54 L288.44 62.67 L288.75 61.13 L289.06 59.87 L289.38 61.45 L289.69 65.09 L290 62.98 L290.31 63.99 L290.62 62.3 L290.94 65.41 L291.25 64.65 L291.56 64.66 L291.88 63.1 L292.19 66.66 L292.5 64.39 L292.81 65.55 L293.12 66.23 L293.44 63.45 L293.75 65.04 L294.06 67.67 L294.38 69.96 L294.69 68.56 L295 68.51 L295.31 66.64 L295.62 69.83 L295.94 68.84 L296.25 70.07 L296.56 69.18 L296.88 70.12 L297.19 71.2 L297.5 69.52 L297.81 71.2 L298.12 70.23 L298.44 68.33 L298.75 69.71 L299.06 70.97 L299.38 72.27 L299.69 71.34 L300 70.25 L300.31 73.21 L300.62 74.23 L300.94 73.02 L301.25 73.23 L301.56 72.88 L301.88 73.25 L302.19 73.8 L302.5 74.23 L302.81 74.21 L303.12 72.82 L303.44 73.91 L303.75 73.17 L304.06 74.78 L304.38 74.85 L304.69 74.55 L305 73.96 L305.31 75.63 L305.62 75.06 L305.94 75.56 L306.25 73.56 L306.56 75.57 L306.88 75.02 L307.19 76.53 L307.5 78.48 L307.81 77.13 L308.12 76.22 L308.44 75.62 L308.75 75.32 L309.06 77.06 L309.38 78.98 L309.69 79.86 L310 75.46 L310.31 76.85 L310.62 78.06 L310.94 77.64 L311.25 77.12 L311.56 76.35 L311.88 76.71 L312.19 77.2 L312.5 79.63 L312.81 77.81 L313.12 77.52 L313.44 76.34 L313.75 81.35 L314.06 76.91 L314.38 77.96 L314.69 78.82 L315 76.42 L315.3 78.07 L315.59 77.67 L315.87 78.53 L316.13 78.4 L316.39 78.09 L316.66 75.92 L316.92 79.96 L317.19 78.35 L317.47 79.4 L317.76 79.37 L318.07 78.16 L318.4 78.89 L318.75 79.95 L319.14 79.51 L319.55 76.61 L320 78.49 L320.23 78.82 L320.47 79.43 L320.72 81.31 L320.98 80.27 L321.24 79.72 L321.51 79.36 L321.79 80.89 L322.08 79.87 L322.37 79.48 L322.66 79.77 L322.96 80.11 L323.27 81.81 L323.58 80.31 L323.89 79.84 L324.21 80.61 L324.53 81.97 L324.85 81.79 L325.17 81.24 L325.5 79.48 L325.83 81.21 L326.15 79.92 L326.48 80.53 L326.81 81.27 L327.14 82.84 L327.46 80.77 L327.79 83.07 L328.11 80.8 L328.44 79.4 L328.76 81.86 L329.07 79.45 L329.39 80.59 L329.69 81.45 L330 80.98 L330.3 80.49 L330.61 82.42 L330.91 80.15 L331.21 80.21 L331.52 80.56 L331.82 81.73 L332.12 80.56 L332.42 81.66 L332.73 81.04 L333.03 81.2 L333.33 83.15 L333.64 80.55 L333.94 81.46 L334.24 80.66 L334.55 79.85 L334.85 81.72 L335.15 79.86 L335.45 80.97 L335.76 81.58 L336.06 80.63 L336.36 82.5 L336.67 80.27 L336.97 81.41 L337.27 80.68 L337.58 81.85 L337.88 82.28 L338.18 83.23 L338.48 81.23 L338.79 82.99 L339.09 81.64 L339.39 79.33 L339.7 81.2 L340 82 L340.3 82.35 L340.6 79.64 L340.89 80.69 L341.18 83.42 L341.47 83.21 L341.75 78.21 L342.03 81.64 L342.31 82.91 L342.59 80.34 L342.87 79.07 L343.15 81.39 L343.43 81.21 L343.7 80.65 L343.98 82.31 L344.26 81.48 L344.55 82.55 L344.83 85.22 L345.12 81.07 L345.41 83.81 L345.7 82.03 L346 81.19 L346.3 82.43 L346.6 80.97 L346.91 81.17 L347.23 84.22 L347.55 81.99 L347.88 82.94 L348.21 81.33 L348.55 79.53 L348.9 80.44 L349.26 82 L349.63 81.76 L350 84.11 L350.25 83.25 L350.51 82.95 L350.77 81.88 L351.03 84.9 L351.29 81.04 L351.56 82.19 L351.83 81.73 L352.11 81.16 L352.38 80.1 L352.66 82.25 L352.95 81.17 L353.23 82.99 L353.52 81.4 L353.81 80.88 L354.1 83 L354.4 82.44 L354.69 81.06 L354.99 81.31 L355.29 81.34 L355.59 82.4 L355.9 81.99 L356.2 81.16 L356.51 82.18 L356.82 83.27 L357.12 81.6 L357.44 83.74 L357.75 83.95 L358.06 80.06 L358.37 82.99 L358.69 80.71 L359 83.22 L359.32 80.68 L359.64 80.23 L359.95 82.46 L360.27 81.33 L360.59 81.79 L360.9 83.19 L361.22 83.16 L361.54 84.24 L361.86 81.35 L362.17 80.53 L362.49 83.37 L362.81 82.86 L363.12 81.82 L363.44 81.34 L363.75 82.22 L364.07 84.44 L364.38 83.42 L364.69 83.79 L365 84.32 L365.3 81.35 L365.6 81.43 L365.9 81.02 L366.22 82.31 L366.54 83.35 L366.86 83.48 L367.18 82.31 L367.52 81.8 L367.85 82.61 L368.19 83.12 L368.53 84.03 L368.87 80.23 L369.22 82.96 L369.57 84.27 L369.91 83.35 L370.27 82.5 L370.62 85.44 L370.97 83.38 L371.32 84.53 L371.67 84.6 L372.03 83.13 L372.38 84.24 L372.73 85.05 L373.08 84.25 L373.42 83.3 L373.77 81.65 L374.11 85.19 L374.45 83.9 L374.78 83.47 L375.12 83.32 L375.44 83.14 L375.77 81.43 L376.09 84.97 L376.4 84.41 L376.71 85.23 L377.02 84.01 L377.32 81.48 L377.61 83.99 L377.89 82.38 L378.17 84.58 L378.44 82.18 L378.7 84.25 L378.96 84.4 L379.21 83.74 L379.45 83.73 L379.68 82.25 L379.9 80.05 L380.11 84.17 L380.31 84.53 L380.5 83.35 L380.68 86.11 L380.84 84.07 L381 84.54" fill="none" stroke="#2a3cbc" stroke-width="0.9" stroke-linejoin="round" />
<path d="M194 112.69 L194.2 110.68 L194.44 111.39 L194.71 111.77 L195.02 111.44 L195.36 110.86 L195.71 109.97 L196.09 110.56 L196.49 110.91 L196.89 109.97 L197.3 109.14 L197.71 108.17 L198.13 109.35 L198.53 110.02 L198.92 109.31 L199.3 109.01 L199.66 108.99 L200 108.45 L200.39 107.71 L200.77 108.26 L201.14 108.44 L201.5 106.95 L201.86 107.25 L202.21 106.48 L202.56 107.16 L202.91 105.96 L203.26 105.47 L203.6 105.16 L203.95 104.7 L204.29 102.81 L204.65 104.31 L205 103.86 L205.36 102.58 L205.71 103.27 L206.07 103.15 L206.43 102.69 L206.79 102.44 L207.14 102.37 L207.5 102.84 L207.86 101.52 L208.21 101.86 L208.57 101.68 L208.93 99.66 L209.29 100.54 L209.64 100.43 L210 100.05 L210.36 99.03 L210.72 99.07 L211.09 98.78 L211.46 97.91 L211.83 97.94 L212.2 97.31 L212.56 96.55 L212.93 97.08 L213.29 96.69 L213.64 95.64 L213.99 96.54 L214.34 95.98 L214.67 95.4 L215 96.03 L215.4 94.53 L215.79 94.64 L216.16 93.44 L216.53 92.6 L216.89 92.88 L217.24 92.13 L217.59 91.84 L217.94 92.44 L218.29 91.62 L218.64 90.47 L219 90.97 L219.36 90.52 L219.73 89.37 L220.09 90.4 L220.45 88.9 L220.82 89.57 L221.18 88.7 L221.55 88.96 L221.91 88.96 L222.27 87.76 L222.64 88.27 L223 85.63 L223.37 85.6 L223.74 86.54 L224.12 85.51 L224.5 84.92 L224.87 84.27 L225.25 84.83 L225.62 83.13 L225.98 82.81 L226.33 82.13 L226.67 81.7 L227 82 L227.42 79.71 L227.82 79.08 L228.2 78.33 L228.56 78.75 L228.92 76.95 L229.27 77.44 L229.63 75.91 L230 75.89 L230.38 74.75 L230.75 74.49 L231.12 73.63 L231.5 72.57 L231.88 72.05 L232.25 72.18 L232.62 70.65 L233 71.18 L233.37 70.59 L233.73 69.61 L234.08 68.97 L234.44 67.93 L234.8 68.84 L235.18 68.05 L235.58 67.62 L236 68.16 L236.32 67.38 L236.65 67.21 L236.99 68.57 L237.34 67.92 L237.69 68.78 L238.06 68.88 L238.43 69.09 L238.81 69.84 L239.2 70.06 L239.6 69.55 L240 70.99 L240.33 70.93 L240.66 71.29 L241.01 72.16 L241.36 72.06 L241.71 72.75 L242.07 72.8 L242.44 73.98 L242.8 74.46 L243.17 74.11 L243.54 75.82 L243.91 75.83 L244.28 76.67 L244.64 76.72 L245 77.18 L245.35 77.88 L245.71 77.77 L246.05 77.92 L246.4 78.04 L246.74 78.69 L247.09 79.1 L247.44 79.45 L247.79 79.45 L248.14 79.3 L248.5 79.63 L248.86 78.99 L249.23 79.75 L249.61 81.29 L250 81.36 L250.33 81.27 L250.67 81.87 L251.02 81.09 L251.39 82.53 L251.75 82.1 L252.12 82.06 L252.5 81.76 L252.87 81.8 L253.25 81.1 L253.62 82.62 L253.99 83.47 L254.35 83.07 L254.7 83.39 L255.05 83.6 L255.38 83.31 L255.7 83.62 L256 84.29 L256.44 83.12 L256.84 83.92 L257.21 84.15 L257.56 84.42 L257.9 84.98 L258.23 84.39 L258.56 84.72 L258.89 83.06 L259.24 84.14 L259.61 83.89 L260 83.76 L260.34 84.4 L260.7 83.65 L261.08 83.19 L261.48 83.61 L261.88 83.33 L262.29 82.61 L262.69 82.9 L263.09 81.88 L263.48 80.81 L263.84 80.9 L264.18 81.79 L264.49 81.43 L264.77 79.61 L265 79.05 L265.73 79.47 L265.9 77.45 L266.5 70.18 L267.2 76.85 L267.39 78.8 L268 77.34 L268.24 77.74 L268.52 74.45 L268.83 75.7 L269.18 75.94 L269.55 74.67 L269.93 73.86 L270.34 73.34 L270.75 72.5 L271.17 73.73 L271.59 71.86 L272 71.36 L272.33 70.84 L272.68 69.2 L273.04 70.53 L273.41 70.77 L273.79 69.35 L274.18 70.93 L274.56 69.43 L274.94 70.9 L275.32 69.13 L275.69 68.76 L276.04 69.01 L276.38 68.52 L276.7 69.59 L277 67.85 L277.46 70.36 L277.87 69.66 L278.23 69.83 L278.56 69.41 L278.89 69.68 L279.23 70.1 L279.59 70.89 L280 71.79 L280.33 71.18 L280.68 72.13 L281.05 72.96 L281.42 73 L281.81 73.75 L282.19 74.46 L282.58 74.47 L282.95 75.59 L283.32 76.18 L283.67 76.54 L284 76.85 L284.42 75.95 L284.8 78.48 L285.15 78.67 L285.5 79.5 L285.85 78.63 L286.2 79.9 L286.58 81.12 L287 81.86 L287.32 81.53 L287.64 82.11 L287.96 83.83 L288.3 83.96 L288.64 84.12 L288.99 85.55 L289.36 86.57 L289.74 86.22 L290.14 87.59 L290.56 87.65 L291 88.55 L291.3 88.71 L291.6 88.97 L291.91 88.18 L292.23 89.01 L292.56 89.12 L292.89 89.79 L293.23 90.2 L293.57 90.6 L293.93 91.46 L294.29 92.02 L294.65 91.67 L295.03 91.31 L295.41 91.47 L295.8 92.44 L296.19 92.97 L296.59 92.98 L297 93.3 L297.31 92.88 L297.61 92.05 L297.89 93.74 L298.17 93.55 L298.44 94.53 L298.71 93.25 L298.98 94.19 L299.26 94.23 L299.54 93.76 L299.82 93.34 L300.12 94.45 L300.44 94.27 L300.77 93.94 L301.12 93.87 L301.5 94.04 L301.9 93.49 L302.33 95.45 L302.79 93.98 L303.28 93.91 L303.81 94.27 L304.39 94.8 L305 94.88 L305.25 94.82 L305.51 94.74 L305.77 94.94 L306.04 93.59 L306.32 95.2 L306.6 94.99 L306.89 95.17 L307.18 95.76 L307.49 95.51 L307.79 95.25 L308.11 95.58 L308.42 95.8 L308.75 95.86 L309.07 95.56 L309.41 96.44 L309.74 95.43 L310.08 96.5 L310.43 95.58 L310.78 96.88 L311.13 97.22 L311.49 96.2 L311.85 95.47 L312.21 96.73 L312.57 95.98 L312.94 97.05 L313.31 97.14 L313.69 96.15 L314.06 96.95 L314.44 97.96 L314.82 96.77 L315.2 97.29 L315.58 98.04 L315.96 97.97 L316.35 98.99 L316.73 98.64 L317.12 97.56 L317.5 98.71 L317.89 96.86 L318.27 98.54 L318.66 98.14 L319.05 98.73 L319.43 98.45 L319.81 98.97 L320.2 98.45 L320.58 99.16 L320.96 98.86 L321.34 99.99 L321.72 98.58 L322.09 98.52 L322.46 99.61 L322.84 99.38 L323.2 99.73 L323.57 99.77 L323.93 99.69 L324.29 99.67 L324.65 99.92 L325 99.79 L325.35 100.61 L325.7 100.66 L326.05 99.81 L326.4 100.75 L326.75 99.7 L327.11 99.06 L327.46 100.38 L327.81 101.17 L328.16 100.2 L328.51 99.96 L328.86 101.82 L329.21 101.06 L329.56 100.95 L329.91 100.99 L330.26 100.66 L330.61 101.63 L330.96 100.53 L331.32 101.38 L331.67 100.58 L332.02 102.09 L332.37 101.61 L332.72 102.01 L333.07 101.64 L333.42 101.82 L333.77 101.61 L334.12 101.87 L334.47 101.84 L334.82 101.33 L335.18 101.89 L335.53 101.5 L335.88 102.1 L336.23 101.83 L336.58 102.35 L336.93 102.32 L337.28 102.54 L337.63 102.11 L337.98 103.1 L338.33 102.33 L338.68 103.21 L339.04 103.44 L339.39 103.07 L339.74 103.15 L340.09 103.56 L340.44 102.38 L340.79 102.65 L341.14 103.22 L341.49 102.61 L341.84 103.36 L342.19 103.63 L342.54 103.77 L342.89 103.77 L343.25 104.07 L343.6 104.21 L343.95 103.4 L344.3 104.62 L344.65 104.22 L345 104.44 L345.35 104.24 L345.7 104.4 L346.06 103.92 L346.41 104.75 L346.77 103 L347.13 104.79 L347.49 104.02 L347.85 104.45 L348.21 104.53 L348.57 104.65 L348.93 104.14 L349.3 104.83 L349.66 104.43 L350.03 104.18 L350.39 104.64 L350.76 104.7 L351.12 104.34 L351.49 105.37 L351.85 104.46 L352.22 105.05 L352.58 104.8 L352.95 103.74 L353.31 105.52 L353.68 104.31 L354.04 104.41 L354.41 106.11 L354.77 105.23 L355.13 105.38 L355.49 105.63 L355.85 105.3 L356.21 104.56 L356.57 106.09 L356.93 105.96 L357.29 105.04 L357.64 104.86 L358 105.85 L358.35 105.1 L358.7 105.83 L359.05 105.11 L359.4 105.43 L359.75 105.24 L360.09 106.23 L360.44 105.88 L360.78 105.97 L361.12 106.63 L361.45 106.62 L361.79 106.11 L362.12 106.25 L362.45 107.46 L362.78 106.57 L363.11 106.68 L363.43 106.42 L363.75 105.4 L364.07 105.9 L364.38 105.84 L364.69 105.69 L365 106.15 L365.42 106.48 L365.84 106.79 L366.26 106.79 L366.69 104.91 L367.11 106.38 L367.54 106.41 L367.96 105.59 L368.39 105.51 L368.82 105.58 L369.24 106.43 L369.66 107.34 L370.09 105.26 L370.51 106.45 L370.93 106.9 L371.34 107.14 L371.75 106.22 L372.16 105.47 L372.57 106.54 L372.97 106.35 L373.36 106.41 L373.75 107.22 L374.13 107.32 L374.51 107.68 L374.88 106.99 L375.25 108.35 L375.61 106.88 L375.95 106.5 L376.3 107.28 L376.63 106.49 L376.95 107.97 L377.27 107.57 L377.57 107.06 L377.87 106.39 L378.15 106.01 L378.43 107.59 L378.69 107.42 L378.94 107.36 L379.18 106.38 L379.4 107.44 L379.62 107.04 L379.81 107 L380 107.36" fill="none" stroke="#ac5cb4" stroke-width="0.8" stroke-linejoin="round" />
<path d="M194 162.32 L194.2 162.44 L194.44 161.67 L194.71 161.51 L195.02 161.65 L195.36 161.92 L195.71 161.54 L196.09 161.92 L196.49 161.83 L196.89 162.14 L197.3 161.66 L197.71 161.59 L198.13 161.54 L198.53 161.26 L198.92 161.12 L199.3 162.03 L199.66 160.67 L200 161.16 L200.39 161.03 L200.77 161.2 L201.14 160.74 L201.5 160.87 L201.86 160.58 L202.21 160.75 L202.56 161.07 L202.91 160.71 L203.26 160.59 L203.6 160.57 L203.95 160.44 L204.29 160.55 L204.65 160.32 L205 160.27 L205.36 160.32 L205.71 159.93 L206.07 160.19 L206.43 160 L206.79 160.06 L207.14 160.45 L207.5 159.74 L207.86 159.85 L208.21 159.85 L208.57 159.75 L208.93 159.97 L209.29 160.18 L209.64 160.05 L210 159.46 L210.36 159.79 L210.71 159.35 L211.07 159.6 L211.43 159.02 L211.79 159.48 L212.14 158.59 L212.5 159.08 L212.86 158.85 L213.21 158.7 L213.57 158.62 L213.93 158.96 L214.29 157.68 L214.64 158.48 L215 158.44 L215.36 158.31 L215.72 157.79 L216.09 157.8 L216.46 158 L216.83 157.81 L217.2 157.39 L217.56 157.45 L217.93 157.47 L218.29 157.48 L218.64 157.12 L218.99 157.12 L219.34 156.8 L219.67 156.16 L220 156.65 L220.41 156.45 L220.82 155.95 L221.22 156.39 L221.61 154.86 L222 156.14 L222.37 155.58 L222.73 155.45 L223.08 155.33 L223.41 155.31 L223.72 155.28 L224 155.1 L224.53 154.53 L224.94 153.77 L225.3 153.05 L225.63 152.04 L226 152.82 L226.4 151.78 L226.81 150.53 L227.22 150.16 L227.62 149.59 L228 149.33 L228.47 147.85 L228.94 147.74 L229.36 147.35 L229.7 147.04 L230.3 147.86 L230.56 147.54 L230.88 147.48 L231.27 146.76 L231.69 146.04 L232.13 146.09 L232.57 145.06 L232.99 144.48 L233.38 143.79 L233.73 142.74 L234 143.3 L234.51 142.47 L235 141.76 L235.25 141.56 L235.56 140.59 L235.9 140.62 L236.27 139.6 L236.66 139.46 L237.05 138.8 L237.44 139.34 L237.82 137.03 L238.18 137.71 L238.5 137.72 L238.9 137.68 L239.24 137.65 L239.56 137.96 L239.88 139.07 L240.21 139.04 L240.57 139.55 L241 140.01 L241.32 139.16 L241.67 139.97 L242.05 140.63 L242.45 140.53 L242.86 140.43 L243.27 140.36 L243.67 140.25 L244.05 140.66 L244.4 140.82 L244.72 141.37 L245 141.3 L245.52 141.81 L245.81 142.48 L246.08 143.17 L246.5 142.63 L246.81 142.62 L247.18 142.75 L247.58 141.99 L248 141.74 L248.42 140.89 L248.82 140.72 L249.19 140.39 L249.5 140.81 L249.92 141.19 L250.19 142.77 L250.48 144.5 L251 145.04 L251.27 144.88 L251.58 145.43 L251.92 146.1 L252.29 145.67 L252.67 146.05 L253.07 145.54 L253.47 146 L253.87 145.87 L254.26 146.16 L254.64 146 L255 145.85 L255.38 145.77 L255.76 145.61 L256.15 145.78 L256.53 146.47 L256.9 145.55 L257.27 145.56 L257.62 145.16 L257.96 144.74 L258.29 144.45 L258.6 144.63 L259.06 144.42 L259.47 143.7 L259.84 143.6 L260.2 142.99 L260.58 142.92 L261 141.79 L261.36 141.83 L261.76 141.23 L262.18 141.05 L262.6 140.92 L263.01 140.2 L263.39 140.53 L263.73 139.16 L264 137.64 L264.52 130.42 L264.8 122.04 L265.29 115.12 L265.8 111.86 L266.29 115.48 L266.8 121.58 L267.08 126.6 L267.39 130.89 L268 134.06 L268.26 134.8 L268.56 134.99 L268.89 135.17 L269.25 134.9 L269.63 134.45 L270.02 133.92 L270.43 133.42 L270.83 132.98 L271.23 132.52 L271.63 131.97 L272 132.65 L272.36 131.59 L272.73 131.28 L273.09 131.11 L273.45 130.55 L273.82 130.22 L274.18 129.44 L274.55 129.28 L274.91 129.07 L275.27 129.08 L275.64 128.64 L276 128.38 L276.37 128.63 L276.74 128.37 L277.12 128.55 L277.5 128.76 L277.87 129.11 L278.25 128.93 L278.62 129.24 L278.98 129.43 L279.33 129.29 L279.67 129.8 L280 129.9 L280.42 130.18 L280.81 130.39 L281.18 131.35 L281.53 130.73 L281.88 130.72 L282.24 131.01 L282.61 131.06 L283 131.52 L283.33 130.6 L283.68 129.67 L284.04 128.96 L284.41 128.41 L284.78 127.58 L285.15 126.77 L285.51 126.21 L285.86 125.74 L286.19 125.43 L286.5 125.46 L286.9 126.1 L287.24 127.13 L287.56 128.01 L287.88 129.47 L288.21 130.67 L288.57 132.24 L289 132.44 L289.32 132.85 L289.68 132.57 L290.07 131.9 L290.48 132.35 L290.9 131.83 L291.31 131.99 L291.72 131.05 L292.1 130.29 L292.45 129.43 L292.75 129.6 L293 127.88 L293.6 121.74 L293.8 112.05 L294.2 102.99 L294.6 95.9 L295.01 93.52 L295.4 94.95 L295.77 102.66 L296.1 112.1 L296.6 133.26 L296.99 129.49 L297.49 121.28 L298 116.59 L298.39 117.2 L298.8 119.59 L299.21 123.07 L299.6 126.35 L299.99 129.55 L300.35 133.32 L301 134.55 L301.27 134.62 L301.6 134.53 L301.97 133.79 L302.36 133.31 L302.78 132.33 L303.2 132.22 L303.61 131.64 L304.01 130.62 L304.38 129.91 L304.72 129.75 L305 129.51 L305.55 130.06 L305.9 131.82 L306.2 133.56 L306.6 135.01 L306.94 135.86 L307.28 136.2 L307.65 137.39 L308.05 137.91 L308.5 138.03 L309 137.67 L309.31 137.59 L309.64 137.03 L310 136.85 L310.38 136.69 L310.77 136.12 L311.16 135.22 L311.55 134.69 L311.94 134.25 L312.31 133.68 L312.67 133.2 L313 133.85 L313.4 133.6 L313.73 134.68 L314.02 134.46 L314.31 135.93 L314.63 136.6 L314.99 137.67 L315.44 137.54 L316 138.59 L316.25 138.66 L316.52 138.88 L316.79 139.08 L317.06 138.98 L317.35 139.04 L317.65 139.09 L317.96 139.56 L318.27 139.18 L318.6 139.03 L318.94 139.06 L319.29 139.11 L319.65 139 L320.02 139.28 L320.41 139.09 L320.8 139.27 L321.22 139.02 L321.64 138.67 L322.08 139.01 L322.53 138.81 L323 138.48 L323.28 138.87 L323.58 139.02 L323.88 140.07 L324.19 139 L324.52 139.04 L324.84 139.12 L325.18 139.17 L325.52 138.76 L325.87 139.18 L326.22 139.05 L326.58 139.08 L326.95 139.02 L327.31 138.14 L327.68 138.99 L328.06 139.47 L328.43 139.12 L328.81 139.39 L329.19 139.05 L329.57 138.88 L329.95 138.86 L330.33 139.09 L330.71 138.91 L331.09 139.65 L331.46 139.17 L331.84 139.67 L332.21 139.19 L332.58 138.88 L332.94 139.12 L333.3 139.1 L333.65 139.12 L334 139.27 L334.34 139.18 L334.67 139.24 L335 139.13 L335.39 138.88 L335.79 139.21 L336.19 139 L336.59 138.07 L337 138.74 L337.4 139.08 L337.8 138.53 L338.21 138.93 L338.61 138.9 L339.01 138.97 L339.4 139.31 L339.79 138.67 L340.18 138.88 L340.56 139.13 L340.94 138.86 L341.31 138.46 L341.67 138.85 L342.03 138.97 L342.37 138.74 L342.71 138.52 L343.04 138.77 L343.36 138.4 L343.66 138.69 L343.96 138.27 L344.24 138.18 L344.51 138.19 L344.76 138.2 L345 137.96 L345.71 137.33 L346.24 136.81 L346.64 136.79 L346.94 135.56 L347.18 134.62 L347.41 134.31 L347.67 134.45 L348 133.51 L348.3 133.8 L348.49 134.32 L348.64 135.37 L348.81 135.88 L349.07 136.69 L349.48 137.34 L350.1 137.69 L351 138.73 L351.22 139.3 L351.45 138.61 L351.7 139.02 L351.96 139.15 L352.24 139.54 L352.52 139.27 L352.82 139.03 L353.13 139.59 L353.45 139.31 L353.77 139.85 L354.11 139.66 L354.45 139.75 L354.81 140.08 L355.17 140.12 L355.53 139.7 L355.9 139.87 L356.28 139.99 L356.66 140.3 L357.05 140.43 L357.44 139.97 L357.83 140.6 L358.22 140.22 L358.62 140.31 L359.02 140.77 L359.41 139.83 L359.81 140.41 L360.21 140.73 L360.6 140.41 L360.99 140.42 L361.38 140.11 L361.77 140.68 L362.15 140.41 L362.53 140.44 L362.9 140.84 L363.27 140.93 L363.63 140.72 L363.99 140.95 L364.33 140.96 L364.67 140.62 L365 141.06 L365.39 141.85 L365.78 141.31 L366.17 141.26 L366.58 141.28 L366.98 141.55 L367.39 141.22 L367.8 141.62 L368.22 141.57 L368.63 141.58 L369.04 141.65 L369.46 141.57 L369.87 141.91 L370.28 141.94 L370.68 142.09 L371.08 142.25 L371.48 142.16 L371.88 142.51 L372.26 142.04 L372.64 142.89 L373.01 142.74 L373.38 142.47 L373.73 142.63 L374.08 142.94 L374.41 142.87 L374.73 143.36 L375.04 143.14 L375.34 144 L375.63 143.03 L375.9 143.37 L376.15 143.27 L376.39 143.6 L376.61 143.04 L376.81 143.87 L377 143.68" fill="none" stroke="#5aa5e0" stroke-width="0.9" stroke-linejoin="round" />
<path d="M194 184.19 L194.16 185.23 L194.34 184.19 L194.53 183.78 L194.74 183.46 L194.97 183.32 L195.21 185.03 L195.46 183.39 L195.72 184.18 L196 183.22 L196.29 182.06 L196.58 183.72 L196.89 182.38 L197.2 182.82 L197.53 182.5 L197.85 182.1 L198.19 180.41 L198.53 181.51 L198.88 181.29 L199.22 182.4 L199.58 180.55 L199.93 180.73 L200.29 180.31 L200.64 181.32 L201 182.08 L201.36 180.41 L201.71 181.5 L202.06 181.01 L202.41 180.18 L202.76 179.46 L203.1 181.05 L203.43 182.06 L203.76 176.77 L204.08 179.88 L204.4 178.74 L204.7 179.74 L205 179.25 L205.32 178.46 L205.63 179.66 L205.95 178.72 L206.26 177.48 L206.57 178.3 L206.88 177.46 L207.19 177.72 L207.49 177.56 L207.8 178.32 L208.1 177.84 L208.41 177.97 L208.71 175.01 L209.01 177.11 L209.31 176.09 L209.61 176.71 L209.91 175.24 L210.21 175.41 L210.51 175.46 L210.81 175.41 L211.11 176.22 L211.41 175.14 L211.7 173.53 L212 174.24 L212.3 175.43 L212.6 174.2 L212.9 174.06 L213.2 173.69 L213.49 173.53 L213.79 172.9 L214.09 172.54 L214.4 173.04 L214.7 173.08 L215 171.36 L215.3 171.33 L215.61 170.55 L215.92 173.58 L216.24 170.79 L216.55 170.02 L216.87 170.83 L217.19 169.09 L217.51 170.96 L217.84 168.37 L218.16 169.15 L218.48 168.03 L218.8 166.89 L219.13 167.71 L219.45 168.16 L219.77 166.94 L220.09 167.15 L220.41 165.83 L220.73 165.79 L221.04 163.94 L221.35 164.59 L221.66 164.75 L221.96 165.74 L222.26 163.3 L222.56 164.12 L222.85 163.32 L223.14 163.58 L223.43 163.74 L223.7 162.66 L223.98 161.7 L224.24 161.43 L224.5 161.79 L224.75 162.9 L225 162.03 L225.39 159.79 L225.76 160.65 L226.12 159.34 L226.46 157.18 L226.78 157.17 L227.09 159.35 L227.4 158 L227.69 158.26 L227.97 157.03 L228.25 157.24 L228.52 156.39 L228.79 156.9 L229.06 156.67 L229.33 156.57 L229.59 156.4 L229.86 154.43 L230.14 154.82 L230.42 154.44 L230.7 155.29 L231 155.3 L231.3 154.79 L231.61 153.94 L231.92 155.23 L232.23 154.39 L232.55 153.66 L232.86 153.48 L233.18 153.9 L233.5 153.98 L233.81 153.3 L234.12 152.68 L234.44 152.8 L234.74 152.53 L235.05 154.05 L235.35 152.79 L235.64 153.42 L235.93 153.26 L236.21 153.64 L236.48 152.96 L236.75 152.82 L237 152.42 L237.37 152.81 L237.71 154.44 L238.02 152.5 L238.31 153.42 L238.59 154.47 L238.87 156.57 L239.13 154.73 L239.41 155.03 L239.69 155.77 L239.98 156.36 L240.29 157.58 L240.63 157.16 L241 157.72 L241.25 159.31 L241.51 158.87 L241.78 157.92 L242.06 158.69 L242.34 159.45 L242.62 159.61 L242.91 160.12 L243.21 160.47 L243.51 161 L243.81 160.28 L244.12 161.91 L244.43 161.6 L244.75 161.14 L245.06 163.1 L245.38 161.73 L245.7 162.21 L246.03 163.94 L246.35 163.48 L246.68 164.2 L247 163.95 L247.28 164.91 L247.57 164.38 L247.86 165.66 L248.16 164.47 L248.46 166.18 L248.75 165.47 L249.06 166.18 L249.36 165.8 L249.67 169.41 L249.97 167.21 L250.28 166.42 L250.59 168.56 L250.9 168.97 L251.21 168.22 L251.53 167.77 L251.84 167.3 L252.15 167.42 L252.46 169.61 L252.77 170.81 L253.08 168.73 L253.39 169.81 L253.69 169.31 L254 169.38 L254.3 169.79 L254.61 172.52 L254.91 168.83 L255.2 171.33 L255.5 170.67 L255.8 170.02 L256.1 171.31 L256.4 171.2 L256.69 170 L256.99 170.02 L257.29 170.39 L257.59 168.99 L257.89 171.02 L258.19 170.56 L258.49 169.76 L258.8 170.39 L259.1 169.82 L259.41 169.95 L259.72 169.05 L260.04 167.43 L260.36 169.34 L260.68 168.94 L261 167.34 L261.29 169.02 L261.58 169.41 L261.88 168.31 L262.18 168.44 L262.48 169.18 L262.78 168.27 L263.08 168.28 L263.39 167.86 L263.7 168.6 L264 166.64 L264.31 167.9 L264.63 166.37 L264.94 167.13 L265.25 166.64 L265.56 166.99 L265.88 166.72 L266.19 165.73 L266.51 166.77 L266.82 165.85 L267.13 166.51 L267.45 165.46 L267.76 165.16 L268.07 165.34 L268.38 165.71 L268.69 164.28 L269 165.71 L269.31 164.48 L269.62 164.57 L269.92 163.39 L270.23 164.65 L270.54 165.11 L270.85 164.4 L271.15 164.48 L271.46 164.11 L271.77 163.55 L272.08 163.24 L272.38 162.13 L272.69 162.22 L273 162.88 L273.31 162.31 L273.62 161.91 L273.92 162.23 L274.23 162.28 L274.54 161.52 L274.85 162.61 L275.15 161.56 L275.46 162.39 L275.77 163.15 L276.08 162.12 L276.38 161.42 L276.69 159.48 L277 161.82 L277.31 160.78 L277.61 162.13 L277.91 162.71 L278.21 161.59 L278.51 162.51 L278.81 163.41 L279.1 161.6 L279.4 163.9 L279.69 162.86 L279.99 166.03 L280.28 163.75 L280.58 164.78 L280.88 162.69 L281.17 163.3 L281.47 163.75 L281.78 164.31 L282.08 164.22 L282.39 164.24 L282.7 164.74 L283.02 165.7 L283.34 166.48 L283.66 166.27 L283.99 165.71 L284.32 165.27 L284.66 166.83 L285 166.85 L285.27 166.73 L285.55 166.48 L285.83 167.89 L286.12 167.12 L286.41 168.24 L286.7 167.79 L286.99 168.12 L287.29 168.07 L287.58 168.42 L287.88 167.86 L288.19 169 L288.49 167.88 L288.79 168.87 L289.1 167.54 L289.41 169.84 L289.72 168.27 L290.03 169.33 L290.34 170.64 L290.65 170.95 L290.97 169.21 L291.28 170.42 L291.59 169.84 L291.91 172.77 L292.22 171.02 L292.53 170.82 L292.84 170.1 L293.15 171.2 L293.47 171.59 L293.77 168.74 L294.08 172.52 L294.39 173.2 L294.7 171.01 L295 172.06 L295.3 172.46 L295.59 171.73 L295.87 171.34 L296.15 173.13 L296.42 172.19 L296.68 171.44 L296.94 171.77 L297.2 172.03 L297.46 172.38 L297.71 172.51 L297.96 172.21 L298.22 173.56 L298.47 172.88 L298.72 174.02 L298.98 172.51 L299.24 173.07 L299.51 173.01 L299.78 173.16 L300.05 174.39 L300.34 174.6 L300.63 173.69 L300.93 173.97 L301.23 172.27 L301.55 173.34 L301.88 174.16 L302.22 172.71 L302.57 173.82 L302.94 172.99 L303.32 173.58 L303.72 174.13 L304.13 174.34 L304.55 174.42 L305 172.97 L305.23 174.75 L305.46 175.36 L305.7 173.55 L305.94 172.96 L306.19 173.93 L306.44 174.23 L306.7 174.6 L306.96 173.6 L307.22 174.85 L307.48 174.77 L307.75 173.27 L308.03 175.24 L308.3 175.5 L308.58 174.38 L308.87 174.99 L309.15 174.94 L309.44 174.16 L309.73 174.76 L310.03 173.4 L310.32 173.75 L310.62 175.74 L310.93 174.64 L311.23 175.48 L311.54 175 L311.84 175.43 L312.16 176.44 L312.47 175.57 L312.78 174.61 L313.1 175.18 L313.41 175.69 L313.73 175.3 L314.05 174.71 L314.38 174.58 L314.7 175.71 L315.02 175.7 L315.35 176.21 L315.67 176.47 L316 174.33 L316.32 175.61 L316.65 175.36 L316.98 176.04 L317.31 175.76 L317.63 175.52 L317.96 176.31 L318.29 175.52 L318.62 175.35 L318.95 176.53 L319.27 176.38 L319.6 176.32 L319.93 175.03 L320.25 176.52 L320.58 176.18 L320.9 175.25 L321.23 176.44 L321.55 177.89 L321.87 178.33 L322.19 177.45 L322.51 175.94 L322.83 176.56 L323.14 176.95 L323.46 177.56 L323.77 176.66 L324.08 176.05 L324.39 177.07 L324.7 177.47 L325 177.96 L325.3 177.36 L325.61 176.18 L325.92 176.73 L326.23 176.7 L326.54 176.11 L326.85 177.12 L327.16 177.38 L327.48 177.75 L327.79 178.51 L328.11 177.58 L328.43 176.53 L328.74 177.13 L329.06 177.4 L329.38 176.44 L329.71 178.1 L330.03 176.82 L330.35 178.35 L330.67 177.43 L330.99 177.26 L331.32 175.48 L331.64 177.91 L331.96 177.4 L332.29 177.46 L332.61 177.44 L332.93 179.97 L333.26 177.32 L333.58 177.29 L333.9 176.84 L334.22 178.14 L334.54 177.44 L334.86 175.93 L335.18 177.65 L335.5 178.66 L335.82 177.81 L336.13 177.45 L336.45 177.77 L336.76 177.82 L337.08 176.41 L337.39 177.94 L337.7 177.08 L338.01 177.52 L338.32 177.52 L338.62 176.62 L338.93 176.4 L339.23 177.18 L339.53 178.55 L339.83 177.83 L340.12 178.37 L340.42 177.37 L340.71 175.1 L341 177.34 L341.28 178.28 L341.57 178.32 L341.85 177.55 L342.13 178.17 L342.41 178.32 L342.68 178.03 L342.95 176.3 L343.22 178.35 L343.48 177.92 L343.74 178.21 L344 175.83 L344.26 178.84 L344.51 177.55 L344.76 178.05 L345 176.97 L345.4 177.81 L345.78 177.81 L346.16 178.13 L346.53 178.34 L346.89 177.98 L347.24 178.93 L347.59 178.21 L347.93 176.75 L348.26 178.45 L348.59 177.26 L348.91 177.64 L349.22 177.52 L349.53 177.9 L349.83 179.25 L350.13 177.48 L350.42 177.6 L350.71 178.56 L351 177.61 L351.28 178.43 L351.56 177.93 L351.84 176.17 L352.11 178.7 L352.39 179.14 L352.66 180.08 L352.92 180.15 L353.19 179.63 L353.46 180.41 L353.73 179.93 L353.99 180.97 L354.26 180.65 L354.52 178.28 L354.79 179.83 L355.06 179.68 L355.33 180.37 L355.6 178.82 L355.88 180.84 L356.15 180 L356.43 179.58 L356.71 179.75 L357 179.11 L357.32 180.24 L357.63 179.5 L357.95 178.12 L358.26 180.15 L358.57 180.09 L358.87 179.98 L359.18 178.94 L359.48 180.3 L359.79 180.32 L360.09 180.66 L360.39 179.54 L360.69 182.61 L360.98 180.74 L361.28 179.94 L361.58 180.17 L361.88 180.29 L362.17 180.3 L362.47 181.5 L362.77 182.56 L363.06 179.81 L363.36 181.26 L363.66 179.13 L363.96 180.98 L364.26 180.39 L364.56 179.34 L364.86 181.1 L365.17 179.51 L365.47 180.2 L365.78 180.34 L366.09 180.62 L366.4 180.62 L366.72 180.12 L367.03 180.16 L367.35 180.12 L367.68 180.15 L368 180.45 L368.29 180.9 L368.59 180.9 L368.9 180.34 L369.21 181.07 L369.54 180.74 L369.86 181.3 L370.2 180.04 L370.54 179.5 L370.88 179.88 L371.23 180.44 L371.58 179.54 L371.93 181 L372.28 181.28 L372.64 179.26 L372.99 180.67 L373.35 180.9 L373.71 180.95 L374.06 179.93 L374.41 180.51 L374.76 180.36 L375.11 180.3 L375.45 180.93 L375.79 179.83 L376.13 176.74 L376.46 181.13 L376.78 179.85 L377.1 178.5 L377.41 179.31 L377.71 179.91 L378 181.08 L378.29 181.01 L378.56 182.11 L378.83 180.2 L379.08 180.74 L379.32 181.18 L379.55 180.49 L379.77 181.22 L379.97 181.23 L380.16 181.69 L380.34 181.26 L380.5 181.45" fill="none" stroke="#a8346a" stroke-width="0.95" stroke-linejoin="round" />
<path d="M193 228.59 L193.2 228.58 L193.4 228.58 L193.6 228.58 L193.8 228.58 L194 228.58 L194.2 228.58 L194.4 228.58 L194.6 228.58 L194.8 228.58 L195 228.58 L195.2 228.58 L195.4 228.58 L195.6 228.58 L195.8 228.58 L196 228.58 L196.2 228.58 L196.4 228.58 L196.6 228.58 L196.8 228.57 L197 228.57 L197.2 228.57 L197.4 228.57 L197.6 228.57 L197.8 228.57 L198 228.57 L198.2 228.57 L198.4 228.56 L198.6 228.56 L198.8 228.56 L199 228.56 L199.2 228.56 L199.4 228.55 L199.6 228.55 L199.8 228.55 L200 228.55 L200.2 228.54 L200.4 228.54 L200.6 228.53 L200.8 228.53 L201 228.52 L201.2 228.52 L201.4 228.51 L201.6 228.5 L201.8 228.49 L202 228.48 L202.2 228.47 L202.4 228.45 L202.6 228.43 L202.8 228.41 L203 228.38 L203.2 228.34 L203.4 228.3 L203.6 228.24 L203.8 228.16 L204 228.05 L204.2 227.87 L204.4 227.54 L204.6 226.83 L204.8 225.38 L205 222.81 L205.2 219.16 L205.4 215.36 L205.6 213.59 L205.8 215.36 L206 219.16 L206.2 222.81 L206.4 225.38 L206.6 226.83 L206.8 227.54 L207 227.87 L207.2 228.05 L207.4 228.16 L207.6 228.24 L207.8 228.29 L208 228.34 L208.2 228.37 L208.4 228.4 L208.6 228.43 L208.8 228.45 L209 228.46 L209.2 228.47 L209.4 228.49 L209.6 228.5 L209.8 228.5 L210 228.51 L210.2 228.52 L210.4 228.52 L210.6 228.53 L210.8 228.53 L211 228.53 L211.2 228.54 L211.4 228.54 L211.6 228.54 L211.8 228.55 L212 228.55 L212.2 228.55 L212.4 228.55 L212.6 228.55 L212.8 228.55 L213 228.56 L213.2 228.56 L213.4 228.56 L213.6 228.56 L213.8 228.56 L214 228.56 L214.2 228.56 L214.4 228.56 L214.6 228.56 L214.8 228.56 L215 228.56 L215.2 228.56 L215.4 228.56 L215.6 228.56 L215.8 228.56 L216 228.56 L216.2 228.56 L216.4 228.56 L216.6 228.56 L216.8 228.56 L217 228.56 L217.2 228.56 L217.4 228.56 L217.6 228.56 L217.8 228.56 L218 228.56 L218.2 228.56 L218.4 228.56 L218.6 228.56 L218.8 228.56 L219 228.56 L219.2 228.56 L219.4 228.55 L219.6 228.55 L219.8 228.55 L220 228.55 L220.2 228.55 L220.4 228.55 L220.6 228.55 L220.8 228.54 L221 228.54 L221.2 228.54 L221.4 228.54 L221.6 228.54 L221.8 228.53 L222 228.53 L222.2 228.53 L222.4 228.52 L222.6 228.52 L222.8 228.51 L223 228.51 L223.2 228.5 L223.4 228.5 L223.6 228.49 L223.8 228.49 L224 228.48 L224.2 228.47 L224.4 228.46 L224.6 228.45 L224.8 228.43 L225 228.42 L225.2 228.4 L225.4 228.38 L225.6 228.36 L225.8 228.33 L226 228.29 L226.2 228.25 L226.4 228.2 L226.6 228.14 L226.8 228.06 L227 227.95 L227.2 227.81 L227.4 227.62 L227.6 227.3 L227.8 226.71 L228 225.45 L228.2 222.88 L228.4 218.33 L228.6 211.85 L228.8 205.12 L229 201.97 L229.2 205.12 L229.4 211.84 L229.6 218.33 L229.8 222.88 L230 225.44 L230.2 226.7 L230.4 227.3 L230.6 227.61 L230.8 227.8 L231 227.94 L231.2 228.04 L231.4 228.12 L231.6 228.18 L231.8 228.23 L232 228.27 L232.2 228.3 L232.4 228.33 L232.6 228.35 L232.8 228.37 L233 228.38 L233.2 228.39 L233.4 228.4 L233.6 228.41 L233.8 228.42 L234 228.42 L234.2 228.42 L234.4 228.42 L234.6 228.42 L234.8 228.42 L235 228.41 L235.2 228.4 L235.4 228.39 L235.6 228.38 L235.8 228.36 L236 228.34 L236.2 228.3 L236.4 228.26 L236.6 228.21 L236.8 228.12 L237 227.99 L237.2 227.74 L237.4 227.2 L237.6 226.1 L237.8 224.15 L238 221.37 L238.2 218.49 L238.4 217.14 L238.6 218.49 L238.8 221.37 L239 224.15 L239.2 226.1 L239.4 227.2 L239.6 227.74 L239.8 227.99 L240 228.13 L240.2 228.21 L240.4 228.27 L240.6 228.31 L240.8 228.34 L241 228.37 L241.2 228.38 L241.4 228.4 L241.6 228.41 L241.8 228.41 L242 228.41 L242.2 228.41 L242.4 228.41 L242.6 228.4 L242.8 228.38 L243 228.36 L243.2 228.31 L243.4 228.23 L243.6 228.04 L243.8 227.65 L244 226.97 L244.2 226 L244.4 224.98 L244.6 224.51 L244.8 224.98 L245 225.99 L245.2 226.97 L245.4 227.65 L245.6 228.03 L245.8 228.21 L246 228.3 L246.2 228.33 L246.4 228.35 L246.6 228.36 L246.8 228.36 L247 228.35 L247.2 228.33 L247.4 228.3 L247.6 228.24 L247.8 228.14 L248 227.94 L248.2 227.49 L248.4 226.62 L248.6 225.24 L248.8 223.51 L249 222.15 L249.2 222.15 L249.4 223.52 L249.6 225.25 L249.8 226.64 L250 227.51 L250.2 227.96 L250.4 228.17 L250.6 228.28 L250.8 228.34 L251 228.38 L251.2 228.41 L251.4 228.43 L251.6 228.45 L251.8 228.46 L252 228.47 L252.2 228.48 L252.4 228.49 L252.6 228.5 L252.8 228.5 L253 228.5 L253.2 228.51 L253.4 228.51 L253.6 228.51 L253.8 228.51 L254 228.51 L254.2 228.51 L254.4 228.51 L254.6 228.51 L254.8 228.51 L255 228.51 L255.2 228.5 L255.4 228.49 L255.6 228.48 L255.8 228.46 L256 228.41 L256.2 228.31 L256.4 228.14 L256.6 227.9 L256.8 227.64 L257 227.52 L257.2 227.64 L257.4 227.89 L257.6 228.13 L257.8 228.3 L258 228.4 L258.2 228.44 L258.4 228.46 L258.6 228.47 L258.8 228.47 L259 228.47 L259.2 228.47 L259.4 228.47 L259.6 228.46 L259.8 228.46 L260 228.45 L260.2 228.44 L260.4 228.42 L260.6 228.4 L260.8 228.37 L261 228.32 L261.2 228.22 L261.4 228.02 L261.6 227.67 L261.8 227.17 L262 226.65 L262.2 226.4 L262.4 226.62 L262.6 227.11 L262.8 227.58 L263 227.89 L263.2 228.06 L263.4 228.12 L263.6 228.12 L263.8 228.1 L264 228.06 L264.2 227.99 L264.4 227.91 L264.6 227.8 L264.8 227.65 L265 227.44 L265.2 227.12 L265.4 226.58 L265.6 225.46 L265.8 223.09 L266 218.54 L266.2 211.26 L266.4 202.21 L266.6 195.06 L266.8 195.06 L267 202.21 L267.2 211.26 L267.4 218.55 L267.6 223.1 L267.8 225.47 L268 226.59 L268.2 227.14 L268.4 227.45 L268.6 227.66 L268.8 227.82 L269 227.94 L269.2 228.03 L269.4 228.1 L269.6 228.16 L269.8 228.21 L270 228.25 L270.2 228.28 L270.4 228.31 L270.6 228.33 L270.8 228.35 L271 228.37 L271.2 228.38 L271.4 228.4 L271.6 228.41 L271.8 228.42 L272 228.42 L272.2 228.43 L272.4 228.44 L272.6 228.44 L272.8 228.44 L273 228.45 L273.2 228.45 L273.4 228.45 L273.6 228.45 L273.8 228.45 L274 228.44 L274.2 228.44 L274.4 228.43 L274.6 228.41 L274.8 228.39 L275 228.36 L275.2 228.29 L275.4 228.16 L275.6 227.93 L275.8 227.58 L276 227.11 L276.2 226.61 L276.4 226.26 L276.6 226.26 L276.8 226.61 L277 227.11 L277.2 227.58 L277.4 227.93 L277.6 228.16 L277.8 228.29 L278 228.35 L278.2 228.39 L278.4 228.41 L278.6 228.42 L278.8 228.43 L279 228.44 L279.2 228.44 L279.4 228.44 L279.6 228.44 L279.8 228.44 L280 228.43 L280.2 228.43 L280.4 228.42 L280.6 228.41 L280.8 228.4 L281 228.37 L281.2 228.34 L281.4 228.28 L281.6 228.19 L281.8 228.06 L282 227.88 L282.2 227.65 L282.4 227.39 L282.6 227.12 L282.8 226.91 L283 226.82 L283.2 226.89 L283.4 227.08 L283.6 227.33 L283.8 227.57 L284 227.78 L284.2 227.94 L284.4 228.04 L284.6 228.09 L284.8 228.11 L285 228.09 L285.2 228.04 L285.4 227.95 L285.6 227.77 L285.8 227.43 L286 226.81 L286.2 225.79 L286.4 224.32 L286.6 222.55 L286.8 220.93 L287 220.24 L287.2 220.9 L287.4 222.49 L287.6 224.23 L287.8 225.66 L288 226.65 L288.2 227.21 L288.4 227.48 L288.6 227.56 L288.8 227.51 L289 227.32 L289.2 226.99 L289.4 226.48 L289.6 225.79 L289.8 224.93 L290 224 L290.2 223.15 L290.4 222.61 L290.6 222.58 L290.8 223.06 L291 223.85 L291.2 224.71 L291.4 225.47 L291.6 226.01 L291.8 226.22 L292 225.94 L292.2 224.94 L292.4 223.13 L292.6 220.8 L292.8 218.92 L293 218.89 L293.2 220.71 L293.4 223.01 L293.6 224.81 L293.8 225.84 L294 226.24 L294.2 226.23 L294.4 225.91 L294.6 225.17 L294.8 223.47 L295 219.48 L295.2 211.3 L295.4 198.08 L295.6 182.98 L295.8 175.46 L296 182.94 L296.2 197.98 L296.4 211.14 L296.6 219.26 L296.8 223.16 L297 224.76 L297.2 225.35 L297.4 225.42 L297.6 224.93 L297.8 223.49 L298 220.46 L298.2 215.48 L298.4 209.23 L298.6 204.27 L298.8 204.23 L299 209.07 L299.2 215 L299.4 219.28 L299.6 221 L299.8 220.57 L300 219.19 L300.2 218.56 L300.4 219.79 L300.6 222.1 L300.8 224.28 L301 225.8 L301.2 226.64 L301.4 227.03 L301.6 227.13 L301.8 227.02 L302 226.59 L302.2 225.58 L302.4 223.74 L302.6 221.07 L302.8 218.29 L303 216.99 L303.2 218.31 L303.4 221.12 L303.6 223.82 L303.8 225.7 L304 226.75 L304.2 227.23 L304.4 227.42 L304.6 227.46 L304.8 227.4 L305 227.2 L305.2 226.7 L305.4 225.6 L305.6 223.42 L305.8 219.91 L306 215.54 L306.2 212.08 L306.4 212.1 L306.6 215.59 L306.8 219.99 L307 223.54 L307.2 225.76 L307.4 226.92 L307.6 227.47 L307.8 227.74 L308 227.9 L308.2 228.01 L308.4 228.09 L308.6 228.15 L308.8 228.19 L309 228.23 L309.2 228.26 L309.4 228.29 L309.6 228.31 L309.8 228.32 L310 228.33 L310.2 228.34 L310.4 228.35 L310.6 228.35 L310.8 228.35 L311 228.35 L311.2 228.35 L311.4 228.34 L311.6 228.33 L311.8 228.32 L312 228.3 L312.2 228.27 L312.4 228.23 L312.6 228.18 L312.8 228.1 L313 227.97 L313.2 227.71 L313.4 227.22 L313.6 226.37 L313.8 225.05 L314 223.3 L314.2 221.43 L314.4 220.12 L314.6 220.12 L314.8 221.44 L315 223.31 L315.2 225.07 L315.4 226.39 L315.6 227.25 L315.8 227.74 L316 228 L316.2 228.14 L316.4 228.23 L316.6 228.29 L316.8 228.33 L317 228.36 L317.2 228.39 L317.4 228.41 L317.6 228.43 L317.8 228.44 L318 228.46 L318.2 228.47 L318.4 228.48 L318.6 228.48 L318.8 228.49 L319 228.5 L319.2 228.5 L319.4 228.51 L319.6 228.51 L319.8 228.52 L320 228.52 L320.2 228.52 L320.4 228.53 L320.6 228.53 L320.8 228.53 L321 228.54 L321.2 228.54 L321.4 228.54 L321.6 228.54 L321.8 228.54 L322 228.54 L322.2 228.55 L322.4 228.55 L322.6 228.55 L322.8 228.55 L323 228.55 L323.2 228.55 L323.4 228.55 L323.6 228.55 L323.8 228.55 L324 228.55 L324.2 228.56 L324.4 228.56 L324.6 228.56 L324.8 228.56 L325 228.56 L325.2 228.56 L325.4 228.56 L325.6 228.56 L325.8 228.56 L326 228.56 L326.2 228.56 L326.4 228.56 L326.6 228.56 L326.8 228.56 L327 228.56 L327.2 228.56 L327.4 228.55 L327.6 228.55 L327.8 228.55 L328 228.55 L328.2 228.55 L328.4 228.54 L328.6 228.54 L328.8 228.53 L329 228.51 L329.2 228.48 L329.4 228.43 L329.6 228.34 L329.8 228.21 L330 228.02 L330.2 227.83 L330.4 227.69 L330.6 227.69 L330.8 227.83 L331 228.02 L331.2 228.21 L331.4 228.34 L331.6 228.43 L331.8 228.48 L332 228.51 L332.2 228.52 L332.4 228.53 L332.6 228.54 L332.8 228.54 L333 228.54 L333.2 228.54 L333.4 228.54 L333.6 228.54 L333.8 228.54 L334 228.53 L334.2 228.53 L334.4 228.52 L334.6 228.5 L334.8 228.46 L335 228.39 L335.2 228.28 L335.4 228.12 L335.6 227.92 L335.8 227.74 L336 227.66 L336.2 227.74 L336.4 227.92 L336.6 228.11 L336.8 228.27 L337 228.39 L337.2 228.45 L337.4 228.49 L337.6 228.51 L337.8 228.52 L338 228.52 L338.2 228.53 L338.4 228.53 L338.6 228.52 L338.8 228.52 L339 228.52 L339.2 228.51 L339.4 228.5 L339.6 228.47 L339.8 228.43 L340 228.34 L340.2 228.21 L340.4 228.01 L340.6 227.77 L340.8 227.55 L341 227.45 L341.2 227.55 L341.4 227.76 L341.6 228 L341.8 228.2 L342 228.33 L342.2 228.42 L342.4 228.46 L342.6 228.48 L342.8 228.49 L343 228.5 L343.2 228.5 L343.4 228.5 L343.6 228.5 L343.8 228.5 L344 228.5 L344.2 228.49 L344.4 228.49 L344.6 228.48 L344.8 228.47 L345 228.47 L345.2 228.45 L345.4 228.44 L345.6 228.43 L345.8 228.41 L346 228.38 L346.2 228.36 L346.4 228.32 L346.6 228.27 L346.8 228.19 L347 228.08 L347.2 227.89 L347.4 227.6 L347.6 227.14 L347.8 226.48 L348 225.6 L348.2 224.53 L348.4 223.37 L348.6 222.32 L348.8 221.68 L349 221.68 L349.2 222.32 L349.4 223.37 L349.6 224.53 L349.8 225.6 L350 226.49 L350.2 227.14 L350.4 227.6 L350.6 227.9 L350.8 228.08 L351 228.2 L351.2 228.27 L351.4 228.32 L351.6 228.36 L351.8 228.39 L352 228.41 L352.2 228.43 L352.4 228.45 L352.6 228.46 L352.8 228.47 L353 228.48 L353.2 228.49 L353.4 228.5 L353.6 228.51 L353.8 228.51 L354 228.52 L354.2 228.52 L354.4 228.52 L354.6 228.53 L354.8 228.53 L355 228.53 L355.2 228.53 L355.4 228.53 L355.6 228.53 L355.8 228.53 L356 228.53 L356.2 228.53 L356.4 228.52 L356.6 228.5 L356.8 228.47 L357 228.41 L357.2 228.31 L357.4 228.17 L357.6 227.99 L357.8 227.84 L358 227.77 L358.2 227.84 L358.4 228 L358.6 228.17 L358.8 228.32 L359 228.42 L359.2 228.48 L359.4 228.51 L359.6 228.53 L359.8 228.54 L360 228.55 L360.2 228.55 L360.4 228.55 L360.6 228.56 L360.8 228.56 L361 228.56 L361.2 228.56 L361.4 228.56 L361.6 228.56 L361.8 228.56 L362 228.55 L362.2 228.55 L362.4 228.54 L362.6 228.53 L362.8 228.5 L363 228.45 L363.2 228.36 L363.4 228.23 L363.6 228.08 L363.8 227.94 L364 227.88 L364.2 227.94 L364.4 228.08 L364.6 228.24 L364.8 228.36 L365 228.45 L365.2 228.5 L365.4 228.53 L365.6 228.55 L365.8 228.56 L366 228.56 L366.2 228.57 L366.4 228.57 L366.6 228.57 L366.8 228.58 L367 228.58 L367.2 228.58 L367.4 228.58 L367.6 228.58 L367.8 228.58 L368 228.58 L368.2 228.58 L368.4 228.58 L368.6 228.59 L368.8 228.59 L369 228.59 L369.2 228.59 L369.4 228.59 L369.6 228.59 L369.8 228.59 L370 228.59 L370.2 228.59 L370.4 228.59 L370.6 228.59 L370.8 228.59 L371 228.59 L371.2 228.59 L371.4 228.59 L371.6 228.59 L371.8 228.59 L372 228.59 L372.2 228.59 L372.4 228.59 L372.6 228.59 L372.8 228.59 L373 228.59 L373.2 228.59 L373.4 228.59 L373.6 228.59 L373.8 228.59 L374 228.59 L374.2 228.59 L374.4 228.59 L374.6 228.59 L374.8 228.59 L375 228.59 L375.2 228.59 L375.4 228.59 L375.6 228.59 L375.8 228.59 L376 228.59 L376.2 228.59 L376.4 228.59 L376.6 228.59 L376.8 228.59 L377 228.59 L377.2 228.59 L377.4 228.59 L377.6 228.59 L377.8 228.59 L378 228.59 L378.2 228.59 L378.4 228.59 L378.6 228.59 L378.8 228.59 L379 228.59 L379.2 228.59 L379.4 228.59 L379.6 228.59 L379.8 228.59 L380 228.59 L380.2 228.59 L380.4 228.59 L380.6 228.59 L380.8 228.59 L381 228.59" fill="none" stroke="#4a58c8" stroke-width="1.0" stroke-linejoin="round" />
<line x1="394" y1="229.6" x2="535" y2="229.6" stroke="#888" stroke-width="1.1"/>
<path d="M407.5 229.6 V11.6 H437.2 V229.6 Z" fill="none" stroke="#96b0e2" stroke-width="1"/>
<line x1="407.5" y1="229.6" x2="437.2" y2="229.6" stroke="#6a86d0" stroke-width="1.1"/>
<line x1="398.3" y1="229.6" x2="398.3" y2="232.5" stroke="#333" stroke-width="0.9"/>
<line x1="414.3" y1="229.6" x2="414.3" y2="232.5" stroke="#333" stroke-width="0.9"/>
<line x1="430" y1="229.6" x2="430" y2="232.5" stroke="#333" stroke-width="0.9"/>
<line x1="445" y1="229.6" x2="445" y2="232.5" stroke="#333" stroke-width="0.9"/>
<line x1="460.2" y1="229.6" x2="460.2" y2="232.5" stroke="#333" stroke-width="0.9"/>
<line x1="475.6" y1="229.6" x2="475.6" y2="232.5" stroke="#333" stroke-width="0.9"/>
<line x1="490.5" y1="229.6" x2="490.5" y2="232.5" stroke="#333" stroke-width="0.9"/>
<line x1="506" y1="229.6" x2="506" y2="232.5" stroke="#333" stroke-width="0.9"/>
<line x1="521.5" y1="229.6" x2="521.5" y2="232.5" stroke="#333" stroke-width="0.9"/>
<text x="391.7" y="236.9" font-size="5.6" font-weight="bold" font-family='"Liberation Sans", sans-serif' fill="#333" text-anchor="start" textLength="14" lengthAdjust="spacingAndGlyphs" >1800</text>
<text x="423" y="236.9" font-size="5.6" font-weight="bold" font-family='"Liberation Sans", sans-serif' fill="#333" text-anchor="start" textLength="14" lengthAdjust="spacingAndGlyphs" >1600</text>
<text x="453.2" y="236.9" font-size="5.6" font-weight="bold" font-family='"Liberation Sans", sans-serif' fill="#333" text-anchor="start" textLength="14" lengthAdjust="spacingAndGlyphs" >1400</text>
<text x="483.5" y="236.9" font-size="5.6" font-weight="bold" font-family='"Liberation Sans", sans-serif' fill="#333" text-anchor="start" textLength="14" lengthAdjust="spacingAndGlyphs" >1200</text>
<text x="514.3" y="236.9" font-size="5.6" font-weight="bold" font-family='"Liberation Sans", sans-serif' fill="#333" text-anchor="start" textLength="14" lengthAdjust="spacingAndGlyphs" >1000</text>
<text x="465.5" y="246.5" font-size="8.0" font-weight="bold" font-family='"Liberation Sans", sans-serif' fill="#000" text-anchor="start" >cm</text>
<text x="477.6" y="243" font-size="4.8" font-weight="bold" font-family='"Liberation Sans", sans-serif' fill="#000" text-anchor="start" >-1</text>
<text x="471.3" y="14.5" font-size="13.4" font-weight="bold" font-family='"Liberation Sans", sans-serif' fill="#000" text-anchor="start" textLength="8.6" lengthAdjust="spacingAndGlyphs" >C</text>
<text x="393" y="108.3" font-size="8.3" font-weight="bold" font-family='"Liberation Sans", sans-serif' fill="#111" text-anchor="start" textLength="9" lengthAdjust="spacingAndGlyphs" >T%</text>
<text x="526.5" y="29.1" font-size="8.8" font-weight="bold" font-family='"Liberation Sans", sans-serif' fill="#111" text-anchor="start" textLength="17.5" lengthAdjust="spacingAndGlyphs" >BTB</text>
<text x="527.5" y="56.2" font-size="9.4" font-weight="bold" font-family='"Liberation Sans", sans-serif' fill="#111" text-anchor="start" textLength="17.5" lengthAdjust="spacingAndGlyphs" >P.M.</text>
<text x="528.4" y="109.7" font-size="9.6" font-weight="bold" font-family='"Liberation Sans", sans-serif' fill="#111" text-anchor="start" textLength="12.8" lengthAdjust="spacingAndGlyphs" >KN</text>
<text x="528.1" y="139.1" font-size="9.6" font-weight="bold" font-family='"Liberation Sans", sans-serif' fill="#111" text-anchor="start" textLength="13.3" lengthAdjust="spacingAndGlyphs" >GR</text>
<text x="527.1" y="177.9" font-size="9.4" font-weight="bold" font-family='"Liberation Sans", sans-serif' fill="#111" text-anchor="start" textLength="19.4" lengthAdjust="spacingAndGlyphs" >COE</text>
<text x="528.7" y="204.6" font-size="9.4" font-weight="bold" font-family='"Liberation Sans", sans-serif' fill="#111" text-anchor="start" textLength="18.7" lengthAdjust="spacingAndGlyphs" >COL</text>
<path d="M393.5 16 C394.58 15.95 397.75 15.78 400 15.7 C402.25 15.62 405.33 15.37 407 15.5 C408.67 15.63 409 15.92 410 16.5 C411 17.08 411.83 17.58 413 19 C414.17 20.42 415.67 25 417 25 C418.33 25 420 20 421 19 C422 18 422.43 17.83 423 19 C423.57 20.17 423.9 25.83 424.4 26 C424.9 26.17 425.4 20.83 426 20 C426.6 19.17 427.33 18.17 428 21 C428.67 23.83 429.33 37 430 37 C430.67 37 430.83 24 432 21 C433.17 18 435.33 19.5 437 19 C438.67 18.5 440.83 17.5 442 18 C443.17 18.5 443.33 21.5 444 22 C444.67 22.5 445.33 20.33 446 21 C446.67 21.67 447.33 25.33 448 26 C448.67 26.67 449.43 22 450 25 C450.57 28 450.73 43.5 451.4 44 C452.07 44.5 452.9 32 454 28 C455.1 24 456.83 21.5 458 20 C459.17 18.5 459.9 16.33 461 19 C462.1 21.67 463.6 35.5 464.6 36 C465.6 36.5 466.1 24.67 467 22 C467.9 19.33 469 20 470 20 C471 20 472.17 20.67 473 22 C473.83 23.33 474.33 27.67 475 28 C475.67 28.33 476.17 23 477 24 C477.83 25 479.17 33.67 480 34 C480.83 34.33 481 28 482 26 C483 24 484.33 23 486 22 C487.67 21 490.5 20.6 492 20 C493.5 19.4 494.27 16.73 495 18.4 C495.73 20.07 495.9 29.4 496.4 30 C496.9 30.6 497.07 23.17 498 22 C498.93 20.83 500.93 22.33 502 23 C503.07 23.67 503.73 25.9 504.4 26 C505.07 26.1 504.73 24.43 506 23.6 C507.27 22.77 509.67 21.67 512 21 C514.33 20.33 517.5 20.1 520 19.6 C522.5 19.1 525.83 18.27 527 18" fill="none" stroke="#ff4a4a" stroke-width="1.0" stroke-linejoin="round" />
<path d="M394 52 C395.83 52.07 402.33 52.07 405 52.4 C407.67 52.73 408.67 53.4 410 54 C411.33 54.6 411.83 55 413 56 C414.17 57 415.83 59.83 417 60 C418.17 60.17 419 57.17 420 57 C421 56.83 422.17 58.5 423 59 C423.83 59.5 424.33 60.17 425 60 C425.67 59.83 426.33 58 427 58 C427.67 58 428.17 60.33 429 60 C429.83 59.67 430.67 56.83 432 56 C433.33 55.17 435.5 55.33 437 55 C438.5 54.67 439.67 53.83 441 54 C442.33 54.17 443.83 54.83 445 56 C446.17 57.17 446.9 56.67 448 61 C449.1 65.33 450.43 81.17 451.6 82 C452.77 82.83 454 69.67 455 66 C456 62.33 456.77 60.83 457.6 60 C458.43 59.17 458.87 58.33 460 61 C461.13 63.67 463.23 75.33 464.4 76 C465.57 76.67 466.07 67.17 467 65 C467.93 62.83 469.17 63.33 470 63 C470.83 62.67 471.23 62.57 472 63 C472.77 63.43 473.77 65.43 474.6 65.6 C475.43 65.77 476.1 63.43 477 64 C477.9 64.57 479 69.17 480 69 C481 68.83 481.83 64.33 483 63 C484.17 61.67 485.5 61.23 487 61 C488.5 60.77 490.77 61.1 492 61.6 C493.23 62.1 493.57 62.27 494.4 64 C495.23 65.73 496.4 70.5 497 72 C497.6 73.5 497.17 73.17 498 73 C498.83 72.83 500.67 70.83 502 71 C503.33 71.17 504.75 73 506 74 C507.25 75 508.5 76.95 509.5 77 C510.5 77.05 510.83 74.03 512 74.3 C513.17 74.57 515.17 78.32 516.5 78.6 C517.83 78.88 518.92 76.83 520 76 C521.08 75.17 522.23 75.35 523 73.6 C523.77 71.85 524 67.6 524.6 65.5 C525.2 63.4 526.27 61.75 526.6 61" fill="none" stroke="#4a50f0" stroke-width="1.0" stroke-linejoin="round" />
<path d="M394 88.4 C395.83 88.5 402.5 88.57 405 89 C407.5 89.43 407.83 90 409 91 C410.17 92 411.07 93.17 412 95 C412.93 96.83 413.77 101.83 414.6 102 C415.43 102.17 416.1 97.5 417 96 C417.9 94.5 419 93.17 420 93 C421 92.83 422.17 94.17 423 95 C423.83 95.83 424.33 98 425 98 C425.67 98 426.27 93.83 427 95 C427.73 96.17 428.57 105.5 429.4 105 C430.23 104.5 430.9 94.5 432 92 C433.1 89.5 434.83 90.17 436 90 C437.17 89.83 437.9 90.17 439 91 C440.1 91.83 441.6 94.83 442.6 95 C443.6 95.17 444.1 91.83 445 92 C445.9 92.17 446.9 91 448 96 C449.1 101 450.43 120 451.6 122 C452.77 124 453.93 111.67 455 108 C456.07 104.33 457 101.17 458 100 C459 98.83 459.93 98.17 461 101 C462.07 103.83 463.4 116 464.4 117 C465.4 118 466.07 109.1 467 107 C467.93 104.9 469 104.73 470 104.4 C471 104.07 472.07 104.67 473 105 C473.93 105.33 474.77 106.4 475.6 106.4 C476.43 106.4 477.2 104.23 478 105 C478.8 105.77 479.57 111.33 480.4 111 C481.23 110.67 481.9 104.9 483 103 C484.1 101.1 485.67 99.77 487 99.6 C488.33 99.43 489.67 100.93 491 102 C492.33 103.07 493.77 104 495 106 C496.23 108 497.23 112.83 498.4 114 C499.57 115.17 500.73 112.83 502 113 C503.27 113.17 504.73 114.33 506 115 C507.27 115.67 508.43 117 509.6 117 C510.77 117 511.87 114.83 513 115 C514.13 115.17 515.23 117.67 516.4 118 C517.57 118.33 518.9 117.4 520 117 C521.1 116.6 522 117.1 523 115.6 C524 114.1 525.33 109.67 526 108 C526.67 106.33 526.83 106 527 105.6" fill="none" stroke="#50b050" stroke-width="1.0" stroke-linejoin="round" />
<path d="M394 124.4 C395.83 124.5 402.33 124.57 405 125 C407.67 125.43 408.4 125.33 410 127 C411.6 128.67 413.43 134.5 414.6 135 C415.77 135.5 415.93 131.17 417 130 C418.07 128.83 419.67 127.83 421 128 C422.33 128.17 424 130.83 425 131 C426 131.17 426.27 128 427 129 C427.73 130 428.57 137.17 429.4 137 C430.23 136.83 430.9 129.83 432 128 C433.1 126.17 434.83 126.17 436 126 C437.17 125.83 437.83 126.5 439 127 C440.17 127.5 442 128.9 443 129 C444 129.1 444.17 127.27 445 127.6 C445.83 127.93 446.9 126.1 448 131 C449.1 135.9 450.43 155.17 451.6 157 C452.77 158.83 453.93 145.67 455 142 C456.07 138.33 457 136.33 458 135 C459 133.67 459.93 131.5 461 134 C462.07 136.5 463.4 149 464.4 150 C465.4 151 466.07 142.07 467 140 C467.93 137.93 469 137.93 470 137.6 C471 137.27 472.07 137.67 473 138 C473.93 138.33 474.77 139.6 475.6 139.6 C476.43 139.6 477.2 137.1 478 138 C478.8 138.9 479.57 145.17 480.4 145 C481.23 144.83 481.9 139 483 137 C484.1 135 485.67 133.5 487 133 C488.33 132.5 489.67 133.17 491 134 C492.33 134.83 493.77 136.33 495 138 C496.23 139.67 497.23 143.33 498.4 144 C499.57 144.67 500.73 142.17 502 142 C503.27 141.83 504.67 142.4 506 143 C507.33 143.6 508.83 145.43 510 145.6 C511.17 145.77 511.93 143.67 513 144 C514.07 144.33 515.23 147.33 516.4 147.6 C517.57 147.87 518.9 146.03 520 145.6 C521.1 145.17 522.17 145.77 523 145 C523.83 144.23 524.37 142.2 525 141 C525.63 139.8 526.5 138.33 526.8 137.8" fill="none" stroke="#f04cf0" stroke-width="1.0" stroke-linejoin="round" />
<path d="M394 160.5 C395 160.52 397.83 160.52 400 160.6 C402.17 160.68 405.33 160.6 407 161 C408.67 161.4 409.17 162 410 163 C410.83 164 411.3 165.2 412 167 C412.7 168.8 413.53 173.55 414.2 173.8 C414.87 174.05 415.37 169.88 416 168.5 C416.63 167.12 417.17 166.08 418 165.5 C418.83 164.92 419.83 164.17 421 165 C422.17 165.83 424 170.17 425 170.5 C426 170.83 426.27 166 427 167 C427.73 168 428.57 177 429.4 176.5 C430.23 176 430.9 166.35 432 164 C433.1 161.65 434.83 162.57 436 162.4 C437.17 162.23 437.83 162.4 439 163 C440.17 163.6 441.83 165.77 443 166 C444.17 166.23 445.07 163.4 446 164.4 C446.93 165.4 447.67 167.4 448.6 172 C449.53 176.6 450.53 190.67 451.6 192 C452.67 193.33 453.93 183 455 180 C456.07 177 457 175.17 458 174 C459 172.83 459.93 171 461 173 C462.07 175 463.4 185.17 464.4 186 C465.4 186.83 466.07 179.83 467 178 C467.93 176.17 469 175.4 470 175 C471 174.6 472.17 175.27 473 175.6 C473.83 175.93 474.17 177.1 475 177 C475.83 176.9 477.1 174.33 478 175 C478.9 175.67 479.57 181.5 480.4 181 C481.23 180.5 481.9 173.83 483 172 C484.1 170.17 485.67 170 487 170 C488.33 170 489.67 170.67 491 172 C492.33 173.33 493.83 175.83 495 178 C496.17 180.17 496.83 184.07 498 185 C499.17 185.93 500.67 183.6 502 183.6 C503.33 183.6 504.67 184.43 506 185 C507.33 185.57 508.67 186.83 510 187 C511.33 187.17 512.67 185.83 514 186 C515.33 186.17 516.5 188 518 188 C519.5 188 521.87 187.08 523 186 C524.13 184.92 524.13 183.03 524.8 181.5 C525.47 179.97 526.63 177.58 527 176.8" fill="none" stroke="#3caaa0" stroke-width="1.0" stroke-linejoin="round" />
<path d="M394 195.6 C395.83 195.67 399.83 195.83 405 196 C410.17 196.17 419.67 196.5 425 196.6 C430.33 196.7 433.83 196.53 437 196.6 C440.17 196.67 442.17 196.6 444 197 C445.83 197.4 446.92 196.33 448 199 C449.08 201.67 449.67 212 450.5 213 C451.33 214 452.08 207.17 453 205 C453.92 202.83 455 201.17 456 200 C457 198.83 457.83 196.67 459 198 C460.17 199.33 461.83 207.5 463 208 C464.17 208.5 464.83 202.6 466 201 C467.17 199.4 467.67 198.9 470 198.4 C472.33 197.9 476.67 198.13 480 198 C483.33 197.87 487.33 197.27 490 197.6 C492.67 197.93 494.67 199.33 496 200 C497.33 200.67 497.33 201.6 498 201.6 C498.67 201.6 498.67 200.33 500 200 C501.33 199.67 504 199.43 506 199.6 C508 199.77 510.4 200.6 512 201 C513.6 201.4 514.27 202.17 515.6 202 C516.93 201.83 518.1 200.67 520 200 C521.9 199.33 525.83 198.33 527 198" fill="none" stroke="#3c3cf0" stroke-width="1.0" stroke-linejoin="round" />
<text x="411" y="30.85" font-size="6" font-weight="normal" font-family='"Liberation Serif", serif' fill="#2a2a2a" text-anchor="start" textLength="12" lengthAdjust="spacingAndGlyphs" >1683</text>
<text x="419" y="37.45" font-size="6" font-weight="normal" font-family='"Liberation Serif", serif' fill="#2a2a2a" text-anchor="start" textLength="11.6" lengthAdjust="spacingAndGlyphs" >1636</text>
<text x="424.6" y="43.05" font-size="6" font-weight="normal" font-family='"Liberation Serif", serif' fill="#2a2a2a" text-anchor="start" textLength="12" lengthAdjust="spacingAndGlyphs" >1597</text>
<text x="438" y="30.85" font-size="6" font-weight="normal" font-family='"Liberation Serif", serif' fill="#2a2a2a" text-anchor="start" textLength="11.4" lengthAdjust="spacingAndGlyphs" >1513</text>
<text x="445.4" y="54.85" font-size="6" font-weight="normal" font-family='"Liberation Serif", serif' fill="#2a2a2a" text-anchor="start" textLength="11.2" lengthAdjust="spacingAndGlyphs" >1462</text>
<text x="459" y="43.05" font-size="6" font-weight="normal" font-family='"Liberation Serif", serif' fill="#2a2a2a" text-anchor="start" textLength="12" lengthAdjust="spacingAndGlyphs" >1377</text>
<text x="469.4" y="37.45" font-size="6" font-weight="normal" font-family='"Liberation Serif", serif' fill="#2a2a2a" text-anchor="start" textLength="11.2" lengthAdjust="spacingAndGlyphs" >1311</text>
<text x="474.6" y="43.05" font-size="6" font-weight="normal" font-family='"Liberation Serif", serif' fill="#2a2a2a" text-anchor="start" textLength="12" lengthAdjust="spacingAndGlyphs" >1276</text>
<text x="491.6" y="37.45" font-size="6" font-weight="normal" font-family='"Liberation Serif", serif' fill="#2a2a2a" text-anchor="start" textLength="11.4" lengthAdjust="spacingAndGlyphs" >1171</text>
<text x="499.6" y="30.85" font-size="6" font-weight="normal" font-family='"Liberation Serif", serif' fill="#2a2a2a" text-anchor="start" textLength="11.4" lengthAdjust="spacingAndGlyphs" >1119</text>
<line x1="417" y1="25" x2="417" y2="26" stroke="#ff4a4a" stroke-width="0.8"/>
<line x1="424.4" y1="26" x2="424.4" y2="32" stroke="#ff4a4a" stroke-width="0.8"/>
<line x1="430" y1="37" x2="430" y2="38" stroke="#ff4a4a" stroke-width="0.8"/>
<line x1="448" y1="26" x2="448" y2="26.5" stroke="#ff4a4a" stroke-width="0.8"/>
<line x1="451.4" y1="44" x2="451.4" y2="49" stroke="#ff4a4a" stroke-width="0.8"/>
<line x1="464.6" y1="36" x2="464.6" y2="38" stroke="#ff4a4a" stroke-width="0.8"/>
<line x1="475" y1="28" x2="475" y2="32" stroke="#ff4a4a" stroke-width="0.8"/>
<line x1="480" y1="34" x2="480" y2="38" stroke="#ff4a4a" stroke-width="0.8"/>
<line x1="496.4" y1="30" x2="496.4" y2="32" stroke="#ff4a4a" stroke-width="0.8"/>
<line x1="504.4" y1="26" x2="504.4" y2="26.5" stroke="#ff4a4a" stroke-width="0.8"/>
<text x="412" y="72.85" font-size="6" font-weight="normal" font-family='"Liberation Serif", serif' fill="#2a2a2a" text-anchor="start" textLength="11.4" lengthAdjust="spacingAndGlyphs" >1680</text>
<text x="419.4" y="78.85" font-size="6" font-weight="normal" font-family='"Liberation Serif", serif' fill="#2a2a2a" text-anchor="start" textLength="11.2" lengthAdjust="spacingAndGlyphs" >1631</text>
<text x="424.6" y="84.45" font-size="6" font-weight="normal" font-family='"Liberation Serif", serif' fill="#2a2a2a" text-anchor="start" textLength="11.4" lengthAdjust="spacingAndGlyphs" >1604</text>
<text x="446" y="90.45" font-size="6" font-weight="normal" font-family='"Liberation Serif", serif' fill="#2a2a2a" text-anchor="start" textLength="11.4" lengthAdjust="spacingAndGlyphs" >1461</text>
<text x="459.4" y="84.45" font-size="6" font-weight="normal" font-family='"Liberation Serif", serif' fill="#2a2a2a" text-anchor="start" textLength="11.2" lengthAdjust="spacingAndGlyphs" >1376</text>
<text x="469.4" y="78.85" font-size="6" font-weight="normal" font-family='"Liberation Serif", serif' fill="#2a2a2a" text-anchor="start" textLength="11.2" lengthAdjust="spacingAndGlyphs" >1311</text>
<text x="474.6" y="84.45" font-size="6" font-weight="normal" font-family='"Liberation Serif", serif' fill="#2a2a2a" text-anchor="start" textLength="12" lengthAdjust="spacingAndGlyphs" >1275</text>
<text x="493.6" y="84.45" font-size="6" font-weight="normal" font-family='"Liberation Serif", serif' fill="#2a2a2a" text-anchor="start" textLength="10.8" lengthAdjust="spacingAndGlyphs" >1159</text>
<text x="504.4" y="90.85" font-size="6" font-weight="normal" font-family='"Liberation Serif", serif' fill="#2a2a2a" text-anchor="start" textLength="11.2" lengthAdjust="spacingAndGlyphs" >1086</text>
<text x="511" y="96.45" font-size="6" font-weight="normal" font-family='"Liberation Serif", serif' fill="#2a2a2a" text-anchor="start" textLength="11.4" lengthAdjust="spacingAndGlyphs" >1044</text>
<line x1="417" y1="60" x2="417" y2="68" stroke="#ff4a4a" stroke-width="0.8"/>
<line x1="425" y1="60" x2="425" y2="74" stroke="#ff4a4a" stroke-width="0.8"/>
<line x1="429.4" y1="60" x2="429.4" y2="80" stroke="#ff4a4a" stroke-width="0.8"/>
<line x1="451.6" y1="82" x2="451.6" y2="85" stroke="#ff4a4a" stroke-width="0.8"/>
<line x1="464.4" y1="76" x2="464.4" y2="80" stroke="#ff4a4a" stroke-width="0.8"/>
<line x1="474.6" y1="65.6" x2="474.6" y2="74" stroke="#ff4a4a" stroke-width="0.8"/>
<line x1="480" y1="69" x2="480" y2="80" stroke="#ff4a4a" stroke-width="0.8"/>
<line x1="498" y1="73" x2="498" y2="80" stroke="#ff4a4a" stroke-width="0.8"/>
<line x1="509" y1="77" x2="509" y2="86" stroke="#ff4a4a" stroke-width="0.8"/>
<line x1="516" y1="78" x2="516" y2="91" stroke="#ff4a4a" stroke-width="0.8"/>
<text x="409" y="114.05" font-size="6" font-weight="normal" font-family='"Liberation Serif", serif' fill="#2a2a2a" text-anchor="start" textLength="11.6" lengthAdjust="spacingAndGlyphs" >1702</text>
<text x="420" y="120.05" font-size="6" font-weight="normal" font-family='"Liberation Serif", serif' fill="#2a2a2a" text-anchor="start" textLength="11" lengthAdjust="spacingAndGlyphs" >1631</text>
<text x="424.6" y="125.45" font-size="6" font-weight="normal" font-family='"Liberation Serif", serif' fill="#2a2a2a" text-anchor="start" textLength="11.4" lengthAdjust="spacingAndGlyphs" >1605</text>
<text x="437.4" y="102.05" font-size="6" font-weight="normal" font-family='"Liberation Serif", serif' fill="#2a2a2a" text-anchor="start" textLength="11.2" lengthAdjust="spacingAndGlyphs" >1518</text>
<text x="446" y="130.45" font-size="6" font-weight="normal" font-family='"Liberation Serif", serif' fill="#2a2a2a" text-anchor="start" textLength="11" lengthAdjust="spacingAndGlyphs" >1461</text>
<text x="459" y="137.45" font-size="6" font-weight="normal" font-family='"Liberation Serif", serif' fill="#2a2a2a" text-anchor="start" textLength="11.6" lengthAdjust="spacingAndGlyphs" >1376</text>
<text x="469.4" y="114.05" font-size="6" font-weight="normal" font-family='"Liberation Serif", serif' fill="#2a2a2a" text-anchor="start" textLength="11.6" lengthAdjust="spacingAndGlyphs" >1309</text>
<text x="474.6" y="120.05" font-size="6" font-weight="normal" font-family='"Liberation Serif", serif' fill="#2a2a2a" text-anchor="start" textLength="12" lengthAdjust="spacingAndGlyphs" >1275</text>
<text x="494" y="125.45" font-size="6" font-weight="normal" font-family='"Liberation Serif", serif' fill="#2a2a2a" text-anchor="start" textLength="11" lengthAdjust="spacingAndGlyphs" >1156</text>
<text x="504.4" y="131.45" font-size="6" font-weight="normal" font-family='"Liberation Serif", serif' fill="#2a2a2a" text-anchor="start" textLength="11.6" lengthAdjust="spacingAndGlyphs" >1086</text>
<text x="511" y="137.45" font-size="6" font-weight="normal" font-family='"Liberation Serif", serif' fill="#2a2a2a" text-anchor="start" textLength="11.4" lengthAdjust="spacingAndGlyphs" >1042</text>
<line x1="414.6" y1="102" x2="414.6" y2="109" stroke="#ff4a4a" stroke-width="0.8"/>
<line x1="425" y1="98" x2="425" y2="115" stroke="#ff4a4a" stroke-width="0.8"/>
<line x1="429.4" y1="105" x2="429.4" y2="120.6" stroke="#ff4a4a" stroke-width="0.8"/>
<line x1="442.6" y1="95" x2="442.6" y2="97" stroke="#ff4a4a" stroke-width="0.8"/>
<line x1="451.6" y1="122" x2="451.6" y2="126.4" stroke="#ff4a4a" stroke-width="0.8"/>
<line x1="464.4" y1="117" x2="464.4" y2="132.6" stroke="#ff4a4a" stroke-width="0.8"/>
<line x1="475.6" y1="106.4" x2="475.6" y2="109" stroke="#ff4a4a" stroke-width="0.8"/>
<line x1="480.4" y1="111" x2="480.4" y2="115" stroke="#ff4a4a" stroke-width="0.8"/>
<line x1="498.4" y1="114" x2="498.4" y2="120.6" stroke="#ff4a4a" stroke-width="0.8"/>
<line x1="509.6" y1="117" x2="509.6" y2="126.4" stroke="#ff4a4a" stroke-width="0.8"/>
<line x1="516.4" y1="118" x2="516.4" y2="132.6" stroke="#ff4a4a" stroke-width="0.8"/>
<text x="409" y="143.45" font-size="6" font-weight="normal" font-family='"Liberation Serif", serif' fill="#2a2a2a" text-anchor="start" textLength="11.6" lengthAdjust="spacingAndGlyphs" >1702</text>
<text x="420" y="149.45" font-size="6" font-weight="normal" font-family='"Liberation Serif", serif' fill="#2a2a2a" text-anchor="start" textLength="11" lengthAdjust="spacingAndGlyphs" >1631</text>
<text x="424.6" y="155.05" font-size="6" font-weight="normal" font-family='"Liberation Serif", serif' fill="#2a2a2a" text-anchor="start" textLength="11.4" lengthAdjust="spacingAndGlyphs" >1605</text>
<text x="437.4" y="143.45" font-size="6" font-weight="normal" font-family='"Liberation Serif", serif' fill="#2a2a2a" text-anchor="start" textLength="11.2" lengthAdjust="spacingAndGlyphs" >1518</text>
<text x="446" y="166.45" font-size="6" font-weight="normal" font-family='"Liberation Serif", serif' fill="#2a2a2a" text-anchor="start" textLength="11" lengthAdjust="spacingAndGlyphs" >1460</text>
<text x="459" y="160.85" font-size="6" font-weight="normal" font-family='"Liberation Serif", serif' fill="#2a2a2a" text-anchor="start" textLength="11.6" lengthAdjust="spacingAndGlyphs" >1376</text>
<text x="469.4" y="149.45" font-size="6" font-weight="normal" font-family='"Liberation Serif", serif' fill="#2a2a2a" text-anchor="start" textLength="11.6" lengthAdjust="spacingAndGlyphs" >1310</text>
<text x="474.6" y="155.05" font-size="6" font-weight="normal" font-family='"Liberation Serif", serif' fill="#2a2a2a" text-anchor="start" textLength="12" lengthAdjust="spacingAndGlyphs" >1275</text>
<text x="494" y="155.05" font-size="6" font-weight="normal" font-family='"Liberation Serif", serif' fill="#2a2a2a" text-anchor="start" textLength="11" lengthAdjust="spacingAndGlyphs" >1157</text>
<text x="504.4" y="160.85" font-size="6" font-weight="normal" font-family='"Liberation Serif", serif' fill="#2a2a2a" text-anchor="start" textLength="11.6" lengthAdjust="spacingAndGlyphs" >1085</text>
<text x="511" y="155.05" font-size="6" font-weight="normal" font-family='"Liberation Serif", serif' fill="#2a2a2a" text-anchor="start" textLength="11.4" lengthAdjust="spacingAndGlyphs" >1041</text>
<line x1="414.6" y1="135" x2="414.6" y2="138.4" stroke="#ff4a4a" stroke-width="0.8"/>
<line x1="425" y1="131" x2="425" y2="144.4" stroke="#ff4a4a" stroke-width="0.8"/>
<line x1="429.4" y1="137" x2="429.4" y2="150.4" stroke="#ff4a4a" stroke-width="0.8"/>
<line x1="443" y1="129" x2="443" y2="138.4" stroke="#ff4a4a" stroke-width="0.8"/>
<line x1="451.6" y1="157" x2="451.6" y2="161.4" stroke="#ff4a4a" stroke-width="0.8"/>
<line x1="464.4" y1="150" x2="464.4" y2="156" stroke="#ff4a4a" stroke-width="0.8"/>
<line x1="475.6" y1="139.6" x2="475.6" y2="144.4" stroke="#ff4a4a" stroke-width="0.8"/>
<line x1="480.4" y1="145" x2="480.4" y2="150.4" stroke="#ff4a4a" stroke-width="0.8"/>
<line x1="498.4" y1="144" x2="498.4" y2="150.4" stroke="#ff4a4a" stroke-width="0.8"/>
<line x1="510" y1="145.6" x2="510" y2="156" stroke="#ff4a4a" stroke-width="0.8"/>
<line x1="516.4" y1="147.6" x2="516.4" y2="150.4" stroke="#ff4a4a" stroke-width="0.8"/>
<text x="409" y="184.45" font-size="6" font-weight="normal" font-family='"Liberation Serif", serif' fill="#2a2a2a" text-anchor="start" textLength="11.6" lengthAdjust="spacingAndGlyphs" >1702</text>
<text x="420" y="190.85" font-size="6" font-weight="normal" font-family='"Liberation Serif", serif' fill="#2a2a2a" text-anchor="start" textLength="11.4" lengthAdjust="spacingAndGlyphs" >1631</text>
<text x="424.6" y="160.85" font-size="6" font-weight="normal" font-family='"Liberation Serif", serif' fill="#2a2a2a" text-anchor="start" textLength="11.4" lengthAdjust="spacingAndGlyphs" >1605</text>
<text x="437.4" y="172.85" font-size="6" font-weight="normal" font-family='"Liberation Serif", serif' fill="#2a2a2a" text-anchor="start" textLength="11.2" lengthAdjust="spacingAndGlyphs" >1518</text>
<text x="446" y="179.45" font-size="6" font-weight="normal" font-family='"Liberation Serif", serif' fill="#2a2a2a" text-anchor="start" textLength="11" lengthAdjust="spacingAndGlyphs" >1460</text>
<text x="459" y="172.85" font-size="6" font-weight="normal" font-family='"Liberation Serif", serif' fill="#2a2a2a" text-anchor="start" textLength="11.6" lengthAdjust="spacingAndGlyphs" >1376</text>
<text x="470" y="184.45" font-size="6" font-weight="normal" font-family='"Liberation Serif", serif' fill="#2a2a2a" text-anchor="start" textLength="11.6" lengthAdjust="spacingAndGlyphs" >1309</text>
<text x="474.6" y="166.85" font-size="6" font-weight="normal" font-family='"Liberation Serif", serif' fill="#2a2a2a" text-anchor="start" textLength="12" lengthAdjust="spacingAndGlyphs" >1275</text>
<text x="494" y="172.85" font-size="6" font-weight="normal" font-family='"Liberation Serif", serif' fill="#2a2a2a" text-anchor="start" textLength="11" lengthAdjust="spacingAndGlyphs" >1157</text>
<text x="504.4" y="166.85" font-size="6" font-weight="normal" font-family='"Liberation Serif", serif' fill="#2a2a2a" text-anchor="start" textLength="11.6" lengthAdjust="spacingAndGlyphs" >1086</text>
<text x="511" y="172.85" font-size="6" font-weight="normal" font-family='"Liberation Serif", serif' fill="#2a2a2a" text-anchor="start" textLength="11.4" lengthAdjust="spacingAndGlyphs" >1040</text>
<line x1="414.2" y1="173.8" x2="414.2" y2="179.6" stroke="#ff4a4a" stroke-width="0.8"/>
<line x1="425" y1="170.5" x2="425" y2="186" stroke="#ff4a4a" stroke-width="0.8"/>
<line x1="429.4" y1="161" x2="429.4" y2="175" stroke="#ff4a4a" stroke-width="0.8"/>
<line x1="443" y1="166" x2="443" y2="168" stroke="#ff4a4a" stroke-width="0.8"/>
<line x1="451.6" y1="179" x2="451.6" y2="191" stroke="#ff4a4a" stroke-width="0.8"/>
<line x1="464.4" y1="172.4" x2="464.4" y2="185" stroke="#ff4a4a" stroke-width="0.8"/>
<line x1="475" y1="177" x2="475" y2="179.6" stroke="#ff4a4a" stroke-width="0.8"/>
<line x1="480.4" y1="166.4" x2="480.4" y2="180" stroke="#ff4a4a" stroke-width="0.8"/>
<line x1="498" y1="172.4" x2="498" y2="184" stroke="#ff4a4a" stroke-width="0.8"/>
<line x1="510" y1="166.4" x2="510" y2="186" stroke="#ff4a4a" stroke-width="0.8"/>
<line x1="518" y1="172.4" x2="518" y2="187" stroke="#ff4a4a" stroke-width="0.8"/>
<text x="420" y="203.45" font-size="6" font-weight="normal" font-family='"Liberation Serif", serif' fill="#2a2a2a" text-anchor="start" textLength="11.4" lengthAdjust="spacingAndGlyphs" >1622</text>
<text x="444.6" y="222.05" font-size="6" font-weight="normal" font-family='"Liberation Serif", serif' fill="#2a2a2a" text-anchor="start" textLength="11.4" lengthAdjust="spacingAndGlyphs" >1461</text>
<text x="457.4" y="217.45" font-size="6" font-weight="normal" font-family='"Liberation Serif", serif' fill="#2a2a2a" text-anchor="start" textLength="11.6" lengthAdjust="spacingAndGlyphs" >1376</text>
<text x="492.4" y="208.45" font-size="6" font-weight="normal" font-family='"Liberation Serif", serif' fill="#2a2a2a" text-anchor="start" textLength="11.2" lengthAdjust="spacingAndGlyphs" >1156</text>
<text x="511" y="208.45" font-size="6" font-weight="normal" font-family='"Liberation Serif", serif' fill="#2a2a2a" text-anchor="start" textLength="11.4" lengthAdjust="spacingAndGlyphs" >1028</text>
<line x1="425" y1="196.6" x2="425" y2="198.4" stroke="#ff4a4a" stroke-width="0.8"/>
<line x1="450.5" y1="213" x2="450.5" y2="217.4" stroke="#ff4a4a" stroke-width="0.8"/>
<line x1="463" y1="208" x2="463" y2="212.4" stroke="#ff4a4a" stroke-width="0.8"/>
<line x1="498" y1="201.6" x2="498" y2="203.4" stroke="#ff4a4a" stroke-width="0.8"/>
<line x1="515.6" y1="202" x2="515.6" y2="203.4" stroke="#ff4a4a" stroke-width="0.8"/>
</svg></body></html>
